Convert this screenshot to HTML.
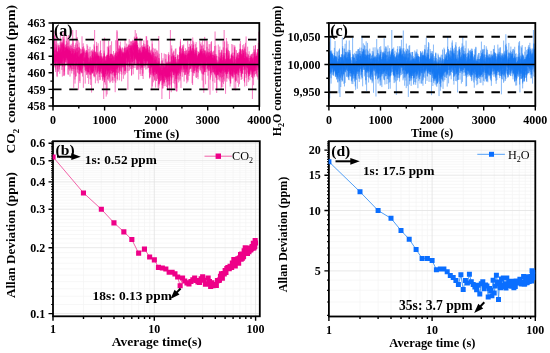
<!DOCTYPE html>
<html><head><meta charset="utf-8"><style>
html,body{margin:0;padding:0;background:#fff;}
svg{display:block;will-change:transform;font-family:"Liberation Serif", serif;}
</style></head><body>
<svg width="550" height="353" viewBox="0 0 550 353">
<rect width="550" height="353" fill="#fff"/>
<path transform="translate(53 0) scale(0.034389 0.1)" d="M0 575l1 39 1-76 1 120 1-129 1 23 1 33 1 82 1 78 1-31 1-202 1 43 1-6 1 76 1-165 1 224 1-153 1-1 1-57 1 24 1 92 1-13 1-42 1 67 1-16 1-224 1 182 1-100 1-26 1 239 1-348 1 235 1 77 1-29 1-38 1 121 1-79 1-42 1 73 1-279 1 174 1 75 1-24 1-51 1-12 1 39 1-45 1 127 1-19 1 10 1-59 1 66 1-87 1 81 1-81 1 12 1-78 1 124 1-45 1 50 1-57 1 95 1-17 1-76 1 63 1 39 1-288 1 148 1 4 1-3 1 89 1 22 1 16 1-142 1 108 1 115 1-67 1-30 1-48 1 121 1-96 1 73 1-83 1-148 1 81 1 72 1-87 1-9 1-85 1 162 1-36 1 95 1-74 1 12 1-73 1 24 1-41 1 66 1 68 1-146 1 123 1 51 1 10 1-103 1-6 1 85 1-304 1 254 1-14 1-113 1 138 1-6 1-63 1 41 1 33 1-10 1 30 1-98 1 240 1-245 1 257 1-191 1-24 1 53 1-20 1-50 1 69 1-84 1 107 1-112 1 69 1-39 1 65 1-51 1 64 1 12 1-105 1-23 1 32 1 57 1 86 1-117 1 9 1-21 1-124 1 173 1-62 1 156 1 19 1-181 1 92 1-28 1-34 1 146 1-257 1 168 1-177 1 54 1 0 1-8 1-16 1 173 1-5 1-149 1 134 1-60 1-47 1 40 1 73 1-10 1-49 1 15 1-89 1 137 1-83 1-71 1 142 1-55 1 98 1-116 1-88 1 101 1-34 1 47 1 25 1 7 1-65 1-32 1 52 1 125 1-47 1-57 1 74 1-158 1 51 1-106 1 227 1 60 1-126 1-13 1 51 1-8 1-22 1-33 1-23 1-85 1-4 1 179 1-231 1 163 1-7 1-39 1 58 1 22 1-223 1-46 1 306 1-102 1-64 1 146 1-116 1 109 1-146 1 80 1-26 1 54 1-149 1 67 1 118 1-46 1-23 1-35 1 40 1 10 1 53 1-31 1 31 1-161 1-64 1 70 1 67 1 21 1 51 1-6 1-173 1 140 1 66 1-47 1-74 1 117 1-82 1 24 1-157 1 56 1 153 1-178 1 204 1-97 1 142 1-22 1-24 1-10 1-204 1 165 1 6 1 50 1-196 1 97 1-37 1 82 1-96 1-4 1 260 1-339 1 74 1 84 1 30 1-118 1 36 1-25 1 29 1-6 1 78 1 60 1-53 1-190 1 97 1 9 1-79 1 100 1-183 1 161 1-6 1 20 1 110 1-188 1-51 1 160 1-260 1 147 1-76 1 142 1 22 1 43 1-157 1 161 1 159 1-285 1 133 1-19 1-111 1 89 1-28 1-33 1-36 1-11 1 68 1-46 1 27 1-66 1 139 1-106 1 157 1-237 1 73 1 162 1-117 1 206 1-200 1 245 1-184 1 71 1-112 1 22 1 4 1-11 1 90 1 83 1 24 1-215 1-220 1 215 1-70 1 21 1 106 1-31 1 77 1-96 1-32 1 79 1 82 1-188 1 50 1 89 1-55 1-50 1 12 1 52 1 27 1-82 1 5 1 36 1-7 1-105 1 151 1-76 1-41 1 95 1 47 1-85 1-5 1 23 1-33 1 94 1-144 1 82 1-40 1-43 1 21 1 13 1 44 1 15 1 12 1-70 1 32 1-101 1 89 1-59 1 128 1-17 1-172 1 104 1-10 1 78 1-15 1-30 1 26 1-99 1 130 1 36 1-271 1 228 1 61 1-98 1-39 1 64 1 6 1 69 1-160 1 30 1 67 1-97 1 17 1 66 1-51 1 42 1-70 1 58 1-20 1-32 1 62 1 40 1-26 1-98 1 106 1-21 1-2 1-181 1 228 1-176 1-5 1 319 1-282 1 74 1-49 1 156 1-143 1 69 1-5 1-55 1 149 1-145 1 63 1 89 1-83 1 53 1-115 1 228 1-283 1 55 1 66 1-133 1-102 1 72 1 67 1 151 1-110 1 0 1-40 1-5 1 205 1-128 1 32 1-27 1-64 1 50 1 84 1-129 1 5 1 104 1-102 1 101 1-81 1-39 1 155 1-195 1-54 1 173 1 130 1-202 1 21 1-43 1 27 1 43 1 105 1-107 1 79 1-123 1-38 1 183 1-129 1 152 1-146 1 23 1-97 1 312 1-123 1-40 1-44 1-7 1 16 1 5 1 33 1-36 1-84 1 72 1 9 1-57 1 166 1-166 1 89 1 73 1-17 1-99 1 106 1-123 1 13 1-99 1 92 1-12 1 42 1-35 1 151 1-92 1 0 1-106 1 153 1-114 1 128 1 50 1-272 1 258 1-237 1 139 1 23 1-25 1 6 1-54 1 17 1 16 1 41 1-2 1-9 1-22 1 79 1 67 1-154 1 31 1 22 1-156 1 122 1 49 1-107 1 32 1-14 1 80 1-10 1-20 1 25 1-76 1 10 1-85 1 153 1-143 1 97 1 68 1-153 1 59 1 22 1-58 1 17 1 74 1-15 1-305 1 301 1 44 1 66 1-73 1-39 1-63 1 61 1 95 1-266 1 265 1-139 1 104 1-28 1 37 1-267 1 145 1 32 1-17 1 61 1-74 1 100 1-134 1-20 1 90 1 48 1-15 1-31 1-72 1 368 1-286 1-5 1-27 1 99 1-158 1-13 1 102 1 10 1 111 1 33 1-54 1-27 1 4 1-76 1 1 1 46 1-124 1-20 1-3 1 103 1 23 1-60 1 62 1-43 1 7 1-51 1 45 1-107 1 127 1-23 1 33 1-23 1 105 1-160 1 96 1-13 1 182 1-257 1 298 1-387 1 158 1-54 1-4 1 88 1-68 1-67 1 52 1-64 1 171 1-115 1-34 1 81 1-18 1-24 1 25 1 192 1-204 1 27 1-1 1-157 1 167 1-67 1 67 1-26 1 123 1-66 1-53 1-51 1 29 1 0 1-35 1 111 1-122 1-210 1 462 1-218 1-66 1 172 1-38 1 12 1 29 1-73 1 74 1 5 1-72 1 49 1-21 1 38 1-13 1-38 1-1 1-114 1 168 1 17 1-58 1-68 1 71 1-42 1-205 1 233 1-45 1 13 1-68 1-25 1 86 1-42 1 93 1-91 1 58 1 143 1-142 1-140 1 248 1-78 1 3 1-46 1 7 1 36 1 21 1-64 1 8 1 27 1-21 1-184 1 124 1 209 1-111 1-48 1 124 1-58 1-17 1 34 1-151 1 72 1 36 1 40 1 247 1-336 1 104 1-32 1-47 1-118 1 158 1-28 1 28 1 28 1-85 1-67 1 170 1-32 1-11 1-70 1 54 1-41 1 30 1 3 1 26 1-210 1 315 1-273 1 177 1-166 1 146 1 10 1 65 1-42 1-10 1 65 1-121 1-14 1 7 1 90 1 12 1-106 1-28 1 259 1-149 1 81 1-73 1-190 1 45 1 306 1-201 1-52 1 83 1-79 1 110 1-201 1 163 1 1 1-108 1 72 1 20 1-70 1 43 1 32 1 9 1-112 1 161 1-131 1-10 1 90 1 59 1-105 1-45 1-29 1 32 1-24 1 95 1-142 1 74 1 157 1-178 1 178 1-129 1 12 1 95 1-33 1-73 1-55 1 3 1 18 1 103 1-66 1 86 1 43 1-112 1-15 1 21 1 3 1 0 1-91 1 75 1-58 1 53 1 131 1-239 1 90 1-51 1 52 1 17 1-240 1 170 1 149 1-81 1-12 1-57 1 88 1 26 1-87 1 169 1-143 1-61 1 99 1 27 1-62 1 177 1-131 1 54 1-53 1 27 1-160 1-32 1 126 1-16 1-94 1 148 1 8 1-24 1-23 1 16 1 25 1-78 1-62 1 54 1 59 1-176 1 123 1-31 1 156 1 197 1-94 1-31 1-241 1 79 1-5 1 12 1 3 1 9 1-147 1 35 1 107 1-5 1 33 1-21 1-21 1 17 1 22 1 30 1-15 1-18 1 48 1-126 1-26 1 67 1 13 1 62 1-162 1 140 1-31 1 4 1-5 1-38 1 38 1-106 1-20 1 147 1-4 1-12 1-10 1 1 1-18 1 72 1-85 1 52 1 71 1-38 1-57 1 63 1 57 1-76 1-68 1-53 1 204 1 105 1-145 1-36 1 14 1-9 1-107 1 37 1 57 1 57 1-198 1 25 1 89 1 64 1-30 1-52 1 17 1-45 1 136 1-60 1-120 1 130 1-19 1-16 1-97 1 86 1-35 1 49 1-62 1-9 1-34 1 52 1 133 1-119 1 26 1 35 1 16 1-148 1 62 1 167 1-244 1 102 1 91 1-15 1-19 1 29 1-191 1 47 1 67 1-48 1 62 1-67 1-120 1 310 1-118 1 46 1 45 1-102 1-5 1-33 1 43 1 1 1-63 1-36 1 183 1-99 1-99 1 152 1-23 1-74 1 122 1-60 1-174 1 166 1 157 1-69 1-47 1 7 1 70 1-196 1 123 1 49 1-135 1 100 1-3 1-24 1-28 1 97 1-131 1-69 1 200 1-88 1 83 1-79 1 13 1-1 1-30 1 36 1-22 1-59 1 96 1 167 1-211 1 94 1-58 1 9 1-87 1-98 1 125 1 51 1-54 1-27 1 44 1-2 1 46 1 11 1-109 1 64 1 73 1 11 1 0 1-13 1 32 1-103 1-43 1 110 1-59 1-7 1 28 1 6 1-57 1 12 1-1 1 125 1-80 1 5 1-65 1-81 1-14 1 150 1-199 1 177 1-8 1-16 1 166 1 5 1-167 1 61 1 3 1-74 1-18 1-36 1 73 1-48 1 121 1-138 1 175 1-55 1-88 1 171 1 78 1-250 1-19 1 30 1 48 1-20 1 18 1-48 1 1 1 141 1-8 1-86 1-34 1-116 1 170 1-31 1 58 1-8 1-93 1 17 1-40 1 88 1-49 1-8 1 115 1-95 1 294 1-287 1 17 1 6 1 20 1 41 1-217 1 141 1 89 1-83 1 24 1-102 1 16 1 93 1 16 1-149 1 161 1-60 1 70 1-99 1-84 1 200 1-166 1-79 1 140 1-75 1 95 1 75 1-72 1 75 1-122 1-89 1 94 1-99 1 168 1-115 1 15 1 95 1 26 1-108 1-22 1 153 1 5 1-61 1-158 1 198 1-179 1 105 1-46 1-26 1 157 1-134 1 90 1 0 1-30 1 62 1-130 1 178 1-168 1 47 1 25 1-69 1 12 1 48 1-153 1 33 1 146 1-11 1-14 1-210 1 175 1 83 1 72 1-3 1-220 1-23 1-13 1 97 1-6 1-49 1 66 1 14 1-172 1 195 1-23 1-67 1 15 1-60 1-225 1 259 1 202 1-139 1 14 1 14 1 119 1-172 1-62 1 43 1 60 1-76 1-49 1 166 1 17 1-148 1 70 1 26 1 31 1-38 1-112 1 15 1 98 1 195 1-258 1 40 1-96 1 20 1 72 1 42 1 65 1-30 1-71 1-43 1 128 1-142 1 76 1 9 1-20 1-47 1 43 1-9 1-73 1 144 1-138 1-19 1 118 1 20 1-4 1-85 1-2 1 33 1-11 1-136 1 134 1-49 1 47 1-172 1 254 1 74 1-17 1-93 1 100 1-171 1 39 1 48 1 2 1-61 1 50 1-88 1 79 1-48 1 13 1-77 1 105 1 11 1 168 1-162 1-187 1 260 1-45 1 28 1 4 1-113 1-39 1-14 1 191 1-174 1 32 1-31 1 58 1 18 1-9 1-97 1 26 1 131 1-22 1 58 1-88 1-70 1 74 1-21 1 52 1-234 1 237 1 163 1-268 1 23 1-24 1 85 1 1 1 12 1 12 1-113 1 45 1 5 1 67 1-46 1 25 1-101 1 19 1 134 1-164 1 143 1-55 1 104 1-179 1 149 1-93 1 48 1-64 1 23 1 14 1-112 1 170 1-39 1 30 1 87 1-81 1-127 1 92 1 51 1-18 1-46 1 35 1 63 1-20 1-31 1-53 1 37 1-83 1 129 1-144 1 76 1 151 1-227 1 20 1 92 1 31 1-208 1 14 1 273 1-177 1 36 1-45 1 80 1-12 1 44 1-118 1-98 1-100 1 198 1-46 1 27 1 121 1-34 1-131 1-42 1 140 1-61 1 84 1 23 1-44 1 68 1-43 1-24 1 8 1-37 1-3 1 21 1 26 1 77 1-132 1 128 1-34 1 1 1-134 1 58 1 50 1-140 1 141 1-101 1 55 1 17 1 37 1-8 1-83 1-34 1 133 1-42 1 14 1 110 1-87 1-14 1-82 1 65 1-25 1 64 1-86 1 132 1-8 1-138 1 42 1 22 1-15 1-65 1 35 1 115 1 82 1-69 1-7 1-38 1-23 1 61 1-92 1-6 1 53 1 34 1-156 1 222 1-199 1 132 1-137 1 54 1 69 1 91 1-152 1 117 1-116 1-253 1 356 1-53 1 21 1 50 1-134 1-13 1 146 1-27 1-100 1 87 1-76 1-84 1 153 1-45 1 316 1-276 1-85 1 53 1-121 1 123 1-136 1-13 1 106 1 16 1-51 1 45 1 119 1-264 1 228 1-26 1-61 1-50 1-69 1 174 1 78 1-25 1-27 1 95 1-175 1-102 1 276 1-445 1 222 1-39 1 52 1 72 1 115 1-22 1-82 1-76 1 3 1-12 1 10 1-21 1 74 1-32 1 54 1-56 1 28 1 180 1-183 1-1 1 78 1-145 1 119 1-150 1 77 1-21 1 119 1-133 1 32 1-10 1 145 1-163 1 58 1 49 1-149 1 34 1 94 1-65 1 16 1 108 1-55 1-71 1 16 1-36 1 82 1 274 1-295 1-113 1 134 1-51 1-1 1 14 1-42 1 52 1-39 1-73 1 101 1-20 1-59 1-9 1 194 1-12 1-92 1 51 1-106 1-3 1 62 1-90 1 61 1 79 1-82 1 317 1-399 1 132 1 7 1 13 1 47 1-22 1-235 1-21 1 223 1-93 1 147 1-6 1-28 1-39 1 34 1-154 1 54 1 81 1-133 1 241 1-178 1 181 1-74 1-103 1 75 1-168 1 114 1 9 1 37 1 21 1-154 1 103 1 73 1-172 1 45 1 89 1-7 1-58 1-154 1 72 1 77 1-137 1 235 1-104 1-205 1 201 1-112 1 123 1 186 1-132 1 90 1-187 1 33 1 31 1 64 1-249 1 137 1-30 1 200 1-61 1-2 1-49 1 129 1 2 1-169 1 43 1-53 1 78 1 20 1-59 1-85 1 121 1-77 1 59 1-44 1 20 1-57 1 164 1-99 1-66 1 98 1-44 1 198 1-161 1 66 1-175 1-18 1 276 1-46 1-89 1-69 1-68 1 69 1-29 1 38 1-174 1 246 1-161 1 54 1 36 1-39 1 143 1-117 1 73 1-93 1 72 1-40 1 77 1-102 1 20 1-80 1-1 1 185 1 11 1-109 1-4 1 49 1-22 1-112 1 105 1-62 1 66 1-13 1 21 1 52 1-71 1 40 1-9 1-56 1-198 1 326 1 5 1-51 1-107 1-5 1 232 1-133 1-143 1 170 1-64 1-103 1 136 1-29 1 61 1-92 1 30 1-26 1 67 1-50 1 47 1-132 1 175 1-183 1 44 1 67 1 18 1 46 1 14 1-119 1-61 1 7 1 50 1 191 1-34 1 63 1-153 1-67 1 118 1-126 1 36 1-78 1 192 1-7 1-80 1-14 1-57 1-28 1 121 1-25 1-85 1 67 1 9 1-45 1 52 1 60 1-162 1-48 1 116 1 18 1 27 1 46 1-146 1 86 1 27 1 40 1-45 1 5 1-48 1 5 1-85 1 119 1 4 1-77 1 211 1-187 1 134 1-162 1 114 1-56 1 0 1-8 1 78 1-78 1 60 1-35 1-100 1 77 1-1 1 104 1-204 1 137 1 90 1-112 1-131 1 80 1 55 1-52 1 21 1-9 1 148 1-115 1-104 1 75 1 17 1 273 1-320 1 13 1 79 1-65 1 64 1-41 1-75 1 76 1-117 1 70 1 149 1-142 1 79 1-26 1-264 1 425 1-204 1-7 1 30 1 70 1-179 1 68 1-83 1 172 1-104 1 136 1-195 1 26 1 118 1 51 1-134 1-7 1 28 1-101 1 52 1 111 1-114 1 82 1-78 1 106 1-43 1 36 1-18 1-41 1 8 1 75 1-127 1 188 1-64 1-13 1-372 1 311 1 74 1-89 1 8 1 34 1-121 1-203 1 313 1 164 1-169 1 183 1-137 1-264 1 190 1 103 1-136 1-37 1 75 1 12 1-6 1 76 1-74 1-34 1 38 1-91 1 72 1-21 1 11 1 92 1-125 1 22 1 162 1-166 1-11 1 64 1-220 1 271 1-39 1-96 1 60 1-8 1 12 1 74 1-69 1 8 1 53 1 61 1-136 1-100 1 93 1 52 1-121 1-2 1 54 1-89 1 106 1 29 1 44 1-54 1-44 1 46 1-68 1 55 1 20 1 47 1-43 1-96 1 76 1-144 1 351 1-165 1-149 1 59 1 157 1 10 1-149 1 52 1-107 1 71 1 103 1-103 1 62 1-184 1 47 1 195 1-186 1 225 1-182 1 83 1-135 1 77 1-26 1 66 1 25 1-165 1 27 1 26 1 65 1 30 1-216 1 182 1-4 1-27 1-76 1 222 1-78 1-163 1 179 1-99 1-68 1 181 1-81 1-43 1 56 1 6 1-26 1-3 1 27 1 6 1 75 1-109 1 16 1 76 1-128 1-50 1 124 1-31 1-11 1 151 1-36 1-119 1 31 1 11 1-24 1-85 1 315 1-150 1-154 1 76 1 58 1-67 1 48 1-100 1 8 1 78 1-9 1 145 1-84 1-61 1-84 1 89 1-105 1-10 1-17 1 28 1 135 1-108 1 124 1-110 1 110 1 19 1-81 1 48 1-111 1 41 1 25 1-18 1-38 1-59 1 134 1-86 1 130 1-104 1 118 1-60 1-5 1-43 1 122 1-88 1-2 1 40 1-92 1 18 1 46 1-26 1-57 1 32 1 232 1-153 1 1 1-3 1-26 1-76 1 101 1-115 1 9 1 146 1-74 1 40 1-48 1-51 1 36 1 160 1-178 1-68 1 9 1 61 1 45 1-71 1 86 1 1 1-37 1 80 1-136 1 144 1-190 1 134 1-13 1 8 1-37 1-25 1 25 1 138 1-137 1 179 1-180 1 37 1-147 1 161 1-149 1 137 1-87 1 53 1-39 1 133 1-164 1-116 1 317 1-158 1 87 1-69 1-86 1 159 1 15 1 44 1-172 1 18 1 195 1-190 1 28 1-66 1 0 1 74 1 105 1-163 1 184 1-105 1 40 1-173 1 117 1-19 1 17 1-53 1 23 1-59 1-1 1 56 1 3 1 5 1 11 1-18 1 17 1-14 1-20 1 101 1-98 1-17 1-52 1 98 1-14 1 16 1-38 1-101 1 101 1 14 1-24 1 6 1 99 1-95 1-15 1 48 1-66 1 225 1-221 1 113 1-130 1 150 1-98 1-73 1 33 1 86 1 54 1-40 1-108 1 65 1-57 1 39 1-6 1 21 1-57 1 77 1-111 1 150 1 51 1-158 1 78 1-113 1 122 1 302 1-303 1-73 1 92 1-110 1 110 1 96 1-190 1 95 1-169 1 162 1 18 1-125 1-41 1 35 1 21 1 49 1 3 1 9 1-42 1 63 1 0 1-145 1 90 1 31 1-30 1 78 1-82 1 20 1 23 1-1 1-25 1-73 1 154 1-80 1-114 1 26 1-5 1-74 1 183 1 88 1-28 1 21 1-94 1-3 1 7 1-56 1 56 1 141 1-98 1 64 1-228 1 61 1-27 1 157 1-39 1-52 1 43 1 58 1-185 1 63 1-25 1-36 1 26 1 125 1-127 1 29 1-19 1-10 1 57 1-27 1 74 1 58 1-70 1 111 1-63 1-43 1-9 1-87 1-38 1 58 1 112 1-42 1-62 1-40 1-58 1 132 1 13 1-151 1 160 1-24 1 113 1-104 1-97 1 115 1-107 1 2 1 10 1 8 1 13 1-37 1 47 1 82 1-113 1 93 1-97 1 282 1-342 1 76 1 261 1-239 1 37 1 11 1-102 1-7 1 163 1-56 1-7 1-14 1-36 1 85 1-140 1 169 1-14 1-84 1 51 1 121 1-175 1 21 1-3 1 91 1-87 1 81 1-49 1-4 1-156 1 104 1-51 1 67 1-14 1 158 1-242 1 144 1 4 1-79 1-64 1-39 1 167 1-27 1-64 1-18 1 47 1 30 1 60 1-4 1 155 1-220 1-1 1 20 1 47 1-19 1-136 1 120 1-10 1-16 1-122 1 170 1 32 1-11 1-1 1 21 1 63 1-154 1 112 1-162 1 69 1-81 1 31 1-3 1-55 1 52 1-72 1 187 1-88 1-88 1 65 1-31 1 49 1-144 1 235 1-67 1-83 1 30 1 95 1-15 1-48 1-5 1 130 1-153 1-38 1 197 1-259 1 88 1 159 1-126 1-50 1 136 1-75 1 162 1-73 1-63 1-91 1 119 1-272 1 230 1-58 1-54 1 109 1-15 1 44 1-96 1-77 1 115 1 79 1-86 1-52 1 50 1 102 1-175 1 114 1-31 1 46 1-4 1 32 1-128 1 144 1-69 1 19 1-29 1 25 1 61 1-114 1-44 1-34 1 196 1-44 1-5 1 85 1-105 1 37 1-234 1 180 1 26 1-170 1 126 1-121 1 319 1-206 1 119 1-58 1-82 1 117 1-28 1-139 1 175 1 109 1-132 1-203 1 205 1 127 1-168 1 82 1-88 1 55 1-122 1 76 1-81 1 46 1 69 1-117 1 156 1-41 1 87 1-98 1 3 1 56 1-28 1 100 1-188 1-64 1 68 1 144 1-115 1 116 1-44 1-72 1 117 1-178 1 105 1 3 1 38 1-31 1 64 1-22 1 34 1-160 1 83 1-29 1-21 1 45 1 16 1-38 1-41 1 47 1 22 1 212 1-293 1-29 1 212 1 9 1-99 1 16 1-67 1 1 1 7 1-65 1 109 1-43 1 54 1 64 1-174 1 108 1-33 1 30 1-60 1-40 1 111 1 6 1-56 1-36 1 5 1 66 1 0 1-45 1 1 1-72 1 167 1-165 1 35 1 36 1-23 1 33 1-188 1 184 1 177 1-150 1-78 1 90 1 17 1 37 1-82 1 26 1-127 1 215 1-149 1 89 1-60 1 63 1-82 1 106 1-85 1-65 1 87 1-55 1 78 1-87 1-1 1 40 1 78 1-137 1 72 1 181 1-162 1-41 1 61 1-1 1 82 1-106 1 5 1-209 1 289 1-129 1 108 1-76 1-47 1 109 1-7 1-111 1-6 1 111 1-69 1-30 1-74 1 79 1 23 1 74 1-104 1 146 1-48 1-51 1 74 1-126 1 80 1 60 1-108 1 120 1-110 1 8 1 42 1-28 1 79 1-193 1 73 1-76 1 49 1 240 1-246 1-41 1-19 1 49 1 174 1-85 1-66 1 65 1 54 1-98 1 189 1-237 1 84 1-6 1-78 1 85 1-55 1 261 1-239 1-42 1 69 1 28 1-107 1 42 1 52 1-122 1 8 1 175 1-131 1 29 1 21 1-44 1-96 1 28 1 36 1 93 1-76 1-23 1-88 1 159 1-94 1 58 1-60 1 21 1 134 1 39 1-73 1-52 1 144 1-211 1 103 1-93 1 157 1-82 1-34 1 14 1 9 1 13 1-35 1 56 1-33 1 68 1-81 1 76 1-16 1-123 1 27 1 55 1-108 1 177 1 16 1-159 1 76 1-29 1 89 1-36 1 46 1 6 1-123 1 163 1-28 1-22 1-60 1 0 1 25 1-97 1 166 1-63 1 44 1 12 1-130 1 22 1 159 1-57 1-145 1 3 1 93 1-132 1 60 1 1 1 44 1-16 1 2 1 60 1-216 1-30 1 77 1 54 1 42 1 101 1-24 1-39 1-82 1 155 1-15 1-120 1 118 1-69 1-78 1-118 1 183 1 41 1-11 1-74 1 68 1 33 1-76 1 76 1-92 1-30 1 211 1-87 1 3 1-18 1-184 1 210 1-62 1 11 1 11 1 24 1-45 1 56 1-160 1 99 1-74 1 1 1 38 1 88 1-20 1-183 1 197 1-117 1 31 1-6 1 147 1-85 1 22 1-25 1-52 1-27 1 115 1 80 1-233 1 161 1 71 1-133 1 45 1 13 1 49 1-40 1 3 1-54 1 113 1-158 1 8 1 72 1 40 1-13 1-126 1 88 1-47 1 79 1-82 1-16 1 15 1 48 1 61 1-29 1-77 1-7 1 39 1-40 1 93 1-94 1 128 1 68 1-188 1 108 1-19 1-164 1 118 1 42 1 3 1-91 1-67 1 318 1-120 1 11 1-118 1 59 1 158 1-189 1 2 1 34 1-126 1 174 1 101 1-236 1 70 1-22 1 5 1-13 1 134 1-84 1 25 1-8 1-120 1 67 1-82 1 133 1 19 1 26 1-110 1-46 1 216 1-121 1-2 1-62 1 111 1 62 1-185 1 197 1-3 1-202 1 84 1 0 1-14 1 60 1-119 1 26 1 61 1-53 1-7 1 50 1 13 1-33 1 74 1-187 1 175 1-22 1 12 1-44 1-9 1-50 1 75 1 37 1-8 1-92 1 39 1-69 1 363 1-221 1-62 1-46 1 179 1-203 1 2 1 75 1-219 1 132 1-27 1 214 1-291 1 287 1-2 1 143 1-18 1-271 1 99 1 24 1-9 1-94 1 61 1-55 1-13 1 71 1-31 1 107 1-116 1-92 1 91 1-11 1-28 1-39 1 85 1 37 1-135 1 83 1 108 1-240 1 278 1-158 1-40 1 9 1 256 1-170 1 62 1-36 1 79 1-122 1 105 1-110 1 96 1-156 1-53 1 68 1 38 1 148 1-112 1-55 1 49 1-34 1 24 1 31 1 26 1-75 1 122 1-167 1 37 1 56 1 46 1-7 1-81 1 41 1-136 1 78 1 191 1-96 1-96 1-22 1-105 1 220 1 40 1 50 1-153 1-46 1 71 1 50 1-24 1-129 1 50 1 84 1-125 1-14 1 94 1-10 1 56 1-76 1-32 1 15 1 106 1-114 1 66 1 85 1-149 1 66 1-26 1 47 1-70 1 256 1-90 1-111 1-154 1 116 1 97 1-247 1 189 1-24 1-38 1-28 1-17 1 88 1 152 1-194 1-50 1 170 1-71 1-35 1 17 1 17 1 42 1-78 1 59 1 53 1-87 1-27 1 112 1-161 1 235 1-190 1 6 1 61 1 52 1-103 1 40 1-37 1 66 1-203 1 216 1-19 1-83 1-19 1 140 1-229 1 128 1 57 1-48 1 74 1-47 1-7 1 41 1-52 1-24 1 101 1 60 1-84 1-67 1 16 1 11 1 87 1-123 1 70 1-146 1 47 1 33 1 141 1-70 1-180 1 149 1 0 1 202 1-240 1 0 1 90 1-51 1 12 1-70 1 63 1-70 1 56 1-10 1-26 1 53 1 119 1-126 1-98 1 23 1 118 1-33 1 154 1-126 1 17 1-18 1-354 1 542 1-276 1 77 1-50 1 12 1 82 1 108 1-186 1 171 1-91 1-69 1 16 1-158 1 96 1 81 1 36 1-41 1 80 1-69 1-138 1 93 1-9 1 89 1-45 1 96 1 26 1-110 1-109 1 203 1-86 1-8 1-60 1 16 1 28 1-52 1 60 1-13 1-8 1 10 1 9 1 32 1-21 1 32 1 49 1-54 1-71 1 58 1-66 1 45 1-6 1-56 1 49 1 105 1-43 1-18 1-55 1 67 1 16 1-138 1 115 1 61 1-80 1 26 1-106 1 36 1-44 1 153 1-73 1-17 1-8 1-65 1 108 1 7 1-47 1 44 1 51 1-76 1 2 1 15 1-62 1-149 1 95 1 125 1-27 1-116 1 103 1 1 1 63 1 40 1 177 1-243 1-44 1 69 1-48 1 127 1-153 1 45 1-46 1 108 1-40 1-87 1 7 1 2 1-82 1 70 1 73 1-30 1-11 1 178 1-16 1-145 1-83 1 21 1 129 1-61 1 12 1 90 1-198 1 181 1-138 1-94 1 109 1 192 1-90 1-135 1 84 1-83 1 112 1 33 1-66 1-47 1-10 1 99 1-19 1-9 1-58 1 2 1-28 1 17 1 31 1 54 1 30 1-165 1 31 1-4 1 165 1 13 1-48 1 69 1-224 1 90 1 96 1-93 1-9 1-83 1 61 1 2 1-167 1 254 1 27 1-140 1 10 1 24 1-15 1 59 1 15 1 57 1-69 1-74 1 80 1-77 1 27 1 49 1-19 1-85 1 99 1-12 1-78 1 38 1 32 1-85 1 105 1 13 1 91 1-174 1-8 1 82 1-87 1 56 1-12 1-42 1-135 1 125 1 96 1-115 1 62 1-16 1 85 1-100 1 88 1-177 1 208 1-6 1 9 1-89 1-40 1 119 1-94 1 41 1-77 1 122 1-54 1-54 1 96 1-32 1-97 1 77 1-83 1 103 1 86 1-132 1 13 1-25 1 109 1-151 1 17 1-29 1 40 1 88 1 116 1-325 1 164 1-69 1 48 1 42 1-89 1 117 1-137 1 26 1-11 1 84 1-16 1-59 1 166 1-82 1 35 1-150 1 3 1 106 1 42 1-49 1 174 1-181 1-4 1-5 1-67 1 87 1 5 1-33 1 196 1-152 1 47 1-98 1 129 1-112 1 52 1 14 1-83 1 48 1-42 1 74 1-125 1 65 1-78 1 130 1-56 1 50 1-21 1-189 1 233 1-18 1-104 1-5 1-84 1 291 1-114 1-217 1 215 1-27 1 27 1-44 1-45 1 34 1 87 1 42 1-80 1-106 1 163 1-84 1 137 1-145 1-23 1-36 1 39 1 35 1-37 1 39 1 53 1 65 1 158 1-288 1-3 1-81 1 145 1-108 1 107 1-190 1-23 1 136 1 172 1-201 1 41 1 111 1-187 1 66 1 73 1-48 1-13 1 13 1-40 1 47 1 3 1-72 1 114 1-156 1-5 1-303 1 349 1 59 1 1 1-8 1-86 1 103 1-11 1-2 1-14 1 34 1 51 1-115 1-2 1 29 1-64 1 2 1 23 1 46 1-65 1 153 1 61 1-102 1-68 1 44 1 204 1-224 1 13 1-33 1 22 1-131 1 309 1-281 1-34 1 73 1 44 1-17 1-209 1 243 1 79 1-291 1 311 1-137 1 18 1 7 1 30 1-51 1 28 1-48 1-84 1 70 1 62 1-21 1-68 1 106 1-9 1-72 1 36 1-126 1 177 1-17 1-53 1 75 1-26 1-26 1-2 1-42 1 76 1 14 1-65 1 21 1 62 1-207 1 179 1-16 1-42 1 34 1 1 1 94 1-167 1 91 1 134 1-280 1 196 1-94 1 96 1-102 1-89 1 145 1-70 1 91 1-82 1-76 1 91 1-101 1 27 1 114 1-182 1 70 1-80 1 197 1 15 1-42 1-86 1 107 1 51 1-139 1 140 1-25 1-50 1-100 1 120 1 4 1 57 1-155 1-14 1 31 1 53 1-12 1-105 1 56 1 131 1-62 1-42 1 91 1-49 1 9 1 57 1 94 1-90 1 36 1 95 1-304 1-3 1 136 1 103 1-53 1-47 1-93 1 95 1-117 1 46 1 47 1-40 1-161 1 220 1-34 1 54 1-158 1 80 1 85 1-113 1 79 1-17 1-2 1-111 1 216 1-113 1-8 1 242 1-290 1-134 1 146 1 44 1 68 1 48 1-91 1 45 1 3 1-54 1-64 1 135 1-87 1 2 1-56 1 75 1-8 1 37 1-50 1-25 1-60 1 324 1-279 1 152 1 90 1-215 1 13 1 59 1-122 1 66 1 233 1-246 1 119 1-77 1-11 1 31 1-60 1 32 1 57 1-9 1-30 1-17 1-91 1-50 1 79 1 21 1-118 1 198 1-11 1-87 1-18 1 55 1-29 1 3 1 15 1-26 1-92 1 103 1 10 1 68 1-76 1 94 1-97 1 30 1 114 1-182 1 71 1-52 1 64 1-8 1-14 1-86 1 53 1 113 1-73 1-58 1-1 1-26 1 95 1-69 1 13 1 187 1-163 1 62 1-30 1-13 1 19 1-149 1 66 1-26 1 83 1 57 1-96 1 19 1-46 1 51 1-17 1 72 1-167 1 182 1-67 1 24 1-87 1-78 1 147 1-75 1 42 1 36 1-195 1 174 1 5 1 86 1-69 1-65 1-139 1 121 1 220 1-82 1 15 1 53 1-100 1-114 1 34 1 18 1-5 1 56 1-224 1 227 1 23 1-26 1-267 1 209 1 134 1-366 1 126 1 46 1 11 1-36 1 152 1-33 1-45 1-25 1-53 1 197 1-93 1-66 1 0 1 305 1-355 1 124 1-76 1 45 1 23 1 42 1-119 1 77 1-3 1-44 1 72 1 54 1-57 1-24 1 58 1-153 1 49 1-60 1-41 1 30 1 59 1 47 1-69 1 123 1-201 1 147 1-19 1-21 1-36 1 30 1 73 1-124 1 174 1-121 1-33 1-14 1 74 1-72 1-86 1 316 1-145 1 12 1 18 1-116 1 28 1 21 1-117 1 133 1-92 1 15 1 85 1 37 1-35 1 22 1-60 1 14 1 131 1-115 1-67 1 39 1-22 1 91 1-40 1 62 1-116 1-95 1 193 1 40 1-170 1 113 1 16 1 77 1-234 1 3 1 203 1-9 1-43 1-47 1-154 1 156 1 12 1 41 1-113 1 141 1-97 1 85 1-134 1 104 1-39 1 60 1-32 1 187 1-159 1-91 1 112 1-122 1 98 1 11 1-31 1-23 1-1 1-63 1 86 1-122 1 182 1-29 1-30 1 119 1-74 1-33 1 48 1-97 1 123 1-187 1 118 1 1 1-17 1 113 1-157 1-19 1 102 1-159 1 15 1 69 1-42 1 179 1-41 1-148 1 121 1-92 1 7 1 58 1-45 1-113 1 16 1 226 1 26 1-202 1 3 1 72 1 39 1-75 1 1 1-33 1 65 1-111 1 181 1-141 1 167 1-71 1-91 1 84 1-54 1 112 1-104 1 82 1 51 1-93 1-11 1 18 1-136 1 185 1-63 1 17 1-23 1 29 1 10 1 137 1-121 1 159 1-156 1-63 1 6 1-5 1 75 1-160 1 70 1-21 1 60 1 35 1-71 1-108 1 55 1 152 1-82 1 34 1-92 1-12 1 3 1 111 1 7 1-133 1 56 1 149 1-139 1-195 1 275 1-77 1 9 1-44 1 245 1-160 1-55 1 200 1-100 1-125 1-62 1 110 1-83 1 4 1 97 1 99 1-25 1-76 1-26 1-81 1 63 1 38 1-85 1-81 1 123 1 2 1-5 1 5 1-28 1 38 1-96 1 109 1 5 1-87 1 21 1-46 1 135 1 21 1 94 1-88 1-56 1-8 1-15 1-62 1 107 1-23 1 110 1-286 1 137 1-80 1 102 1-47 1 58 1 86 1-6 1-175 1 83 1-16 1 66 1-56 1 61 1 30 1 11 1-110 1-32 1 90 1-89 1 43 1-125 1 52 1 163 1-111 1-34 1 140 1-209 1 64 1 82 1-84 1 48 1-10 1-110 1 171 1-150 1-27 1 190 1-255 1 200 1 98 1-165 1 72 1 39 1 55 1-139 1 47 1 27 1 57 1-184 1 100 1 30 1-61 1 94 1-124 1 59 1 123 1-90 1 37 1-29 1-85 1-55 1 90 1-76 1 62 1-55 1 94 1-32 1-66 1 55 1-128 1 203 1-45 1 14 1 3 1-64 1 60 1-56 1 94 1-36 1 220 1-339 1-13 1 124 1-62 1 87 1-106 1-45 1 130 1-58 1 118 1-4 1-91 1 73 1-136 1 339 1-306 1-23 1-18 1-128 1 201 1-37 1 33 1 95 1 62 1-275 1 95 1-141 1 281 1-151 1 122 1-88 1-83 1 95 1 93 1-104 1 60 1-4 1 89 1-206 1 104 1-72 1-35 1 114 1-43 1-132 1 310 1-223 1-47 1-64 1 308 1-112 1-18 1 34 1-124 1-25 1 57 1 15 1 20 1 14 1 6 1-81 1 192 1-105 1-41 1 45 1 52 1-87 1 27 1-61 1 32 1 161 1-117 1 89 1-9 1-85 1-111 1 71 1 82 1 9 1-125 1 145 1-41 1-4 1-112 1 66 1-12 1 11 1 62 1 57 1-170 1-55 1 165 1-83 1-125 1 232 1-128 1 60 1-4 1 32 1-61 1 101 1 2 1-98 1-3 1 73 1-137 1 85 1-93 1 272 1-216 1-22 1 115 1 26 1 21 1-129 1-39 1-109 1 128 1 96 1-73 1-25 1 178 1-140 1-104 1 160 1-7 1-54 1 60 1 140 1-169 1-37 1-43 1 95 1 23 1-58 1-119 1 246 1-1 1-28 1-46 1 22 1 11 1-15 1 56 1-83 1-126 1 126 1-30 1-15 1 96 1-87 1-39 1 35 1 91 1-52 1 9 1-72 1 49 1-4 1-33 1 29 1-63 1 67 1 154 1-176 1-6 1 90 1-73 1-14 1 38 1-15 1-52 1 231 1-167 1-67 1 64 1 68 1-42 1 11 1-143 1 30 1 181 1-183 1 111 1 13 1-150 1 12 1 116 1-106 1 24 1 98 1-113 1 106 1-65 1 26 1-8 1-67 1 25 1 39 1-33 1 93 1-3 1-85 1-35 1 18 1 40 1 17 1-88 1 75 1-22 1-54 1 96 1-92 1 32 1 92 1-52 1 63 1-68 1-113 1-76 1 216 1 20 1-27 1-37 1 111 1-23 1 37 1-140 1-50 1 21 1 86 1-81 1 102 1-69 1 41 1-46 1 103 1-175 1 145 1-128 1-2 1 52 1-26 1 22 1 97 1-27 1 70 1-260 1 122 1-57 1 79 1 52 1 3 1-66 1-83 1 66 1-27 1 64 1-171 1 176 1-57 1 173 1-211 1 48 1-65 1 64 1 61 1-10 1-85 1 79 1 138 1-118 1-82 1 115 1-57 1-136 1 221 1-62 1-88 1 92 1-23 1-27 1-56 1 15 1 47 1 49 1-69 1 26 1-126 1 9 1 64 1 276 1-209 1-24 1 52 1-38 1 57 1-80 1 36 1-59 1 52 1 151 1-232 1 96 1-192 1-11 1 260 1 4 1-135 1 27 1-8 1 32 1 18 1 76 1-76 1 89 1-48 1-151 1 384 1-220 1-37 1-57 1 23 1 14 1-20 1 44 1-48 1 14 1 25 1-131 1 196 1-77 1 134 1-17 1 18 1-144 1-146 1 151 1-66 1 396 1-360 1 183 1-204 1 0 1 57 1-71 1 126 1-89 1 45 1-13 1-100 1 111 1-84 1 156 1-107 1 137 1-162 1 127 1-170 1 59 1 152 1-86 1 12 1 58 1-40 1-296 1 133 1 172 1 47 1-36 1-139 1-43 1 88 1-8 1 61 1 25 1-85 1 118 1-168 1 113 1-69 1 142 1-57 1-65 1 65 1-158 1 126 1-38 1-47 1 90 1-17 1 224 1-192 1-9 1-73 1 54 1-108 1 116 1-17 1-48 1 93 1-95 1 44 1-55 1 34 1 37 1 69 1-70 1-55 1 23 1 50 1-35 1 30 1-41 1 2 1-193 1 158 1-27 1 82 1-34 1 34 1-39 1 41 1 22 1 81 1-33 1-163 1 83 1-8 1-8 1-2 1 56 1-68 1-111 1 121 1 14 1-86 1 50 1 25 1 4 1 61 1 26 1-56 1-17 1 71 1-270 1 157 1 55 1-6 1 19 1 56 1-125 1 41 1 44 1-51 1-89 1 97 1 7 1 141 1-232 1 116 1-67 1-13 1-3 1 138 1-105 1-24 1 106 1-1 1-125 1 47 1 115 1-135 1 328 1-319 1-53 1-8 1 60 1 61 1-61 1-14 1-36 1 70 1 56 1 12 1-139 1-44 1 114 1-11 1 12 1 46 1 56 1-262 1 5 1 203 1-91 1 92 1-33 1 22 1 31 1-51 1 34 1-86 1 141 1-125 1-19 1 35 1 5 1 29 1-115 1 90 1-87 1 58 1-24 1 137 1-63 1-73 1 102 1 7 1-224 1 505 1-413 1 63 1 80 1-100 1 47 1-20 1 193 1-141 1 6 1-60 1-10 1-1 1 144 1-197 1 102 1-129 1 179 1-73 1 57 1 100 1-224 1 175 1-194 1 39 1 7 1-33 1 125 1-71 1 60 1-236 1 230 1-84 1 86 1-79 1 31 1-45 1 60 1 113 1 18 1-75 1-173 1 78 1-170 1 144 1 93 1 85 1-78 1-17 1-34 1 27 1-59 1 81 1-102 1 98 1-12 1-58 1 73 1-19 1-107 1 145 1 50 1-105 1 84 1-154 1 93 1 79 1-202 1 34 1 11 1-7 1 127 1-50 1-11 1 58 1-96 1 69 1-6 1-68 1 27 1 208 1-177 1-51 1 117 1-103 1-26 1 332 1-257 1 42 1-105 1 6 1 50 1-93 1 113 1-83 1-29 1 114 1-130 1-21 1 49 1 62 1 3 1 94 1-67 1-60 1 83 1 12 1-94 1 134 1-47 1-41 1-87 1 104 1-56 1 120 1-105 1 27 1-138 1 40 1 76 1-37 1 48 1-73 1 176 1-90 1-41 1 106 1-11 1 20 1-161 1 135 1-44 1-189 1 214 1-76 1 13 1 60 1 70 1-47 1 58 1-211 1 287 1-268 1 118 1-32 1 38 1-95 1-274 1 300 1-49 1 92 1 36 1 2 1 45 1-162 1 100 1-58 1 20 1 50 1-19 1-59 1-70 1 147 1 16 1 17 1-59 1 105 1 6 1-319 1 201 1-62 1 49 1-5 1 114 1-34 1-79 1-17 1 140 1-113 1-56 1 79 1-12 1 120 1-182 1-37 1 114 1-6 1-45 1 28 1-37 1 106 1-161 1-17 1 351 1 35 1-287 1 35 1 31 1 15 1 162 1-252 1 88 1-162 1 152 1 37 1-11 1 61 1-167 1 35 1 58 1-58 1-69 1 42 1 42 1-15 1 80 1-89 1 38 1 49 1-39 1-20 1-12 1 65 1-112 1 47 1 78 1-13 1-35 1-84 1 81 1-34 1 51 1-37 1-72 1 18 1 47 1-38 1 14 1-34 1 52 1-20 1-202 1 144 1 152 1-59 1 79 1-110 1-5 1 62 1-6 1-12 1-125 1 180 1-92 1 140 1-71 1-13 1-15 1-40 1-5 1 0 1 47 1 11 1 13 1-221 1 161 1 5 1 8 1-35 1 165 1-176 1 61 1-61 1-54 1 53 1 5 1-19 1-11 1 115 1-97 1 82 1-11 1-67 1 38 1 111 1-308 1 250 1-22 1 5 1 48 1-215 1 188 1-63 1 159 1-176 1 59 1-108 1 115 1-120 1 56 1 60 1-178 1 205 1-28 1 4 1 64 1-172 1 129 1-63 1-31 1 90 1-163 1 154 1-123 1 9 1 125 1-146 1 71 1 15 1-40 1-37 1 69 1-41 1 285 1-158 1-91 1 1 1 132 1-110 1 38 1 14 1-177 1 158 1-208 1 374 1-125 1-40 1-175 1 97 1-114 1 115 1 9 1 71 1 27 1-25 1-117 1 63 1 37 1-196 1 204 1-89 1 4 1 92 1-3 1-79 1-18 1 63 1-29 1-26 1 45 1 4 1-9 1 32 1-37 1 118 1-170 1 223 1-116 1-105 1 21 1 12 1 21 1 215 1-302 1 39 1 82 1-61 1 71 1-151 1 121 1-78 1-185 1 272 1-55 1-49 1 161 1-263 1 136 1 24 1-103 1 154 1 27 1-85 1 68 1 145 1-265 1 83 1-68 1 12 1 15 1 177 1-154 1-31 1 57 1-34 1 130 1-175 1 90 1-74 1-43 1 54 1-314 1 317 1 39 1 47 1-97 1-76 1 111 1-87 1 77 1 25 1 70 1-49 1 137 1-154 1-54 1-191 1 182 1 79 1-14 1-36 1 40 1 17 1 8 1 11 1-104 1-2 1 127 1-99 1 55 1-3 1-20 1-51 1 80 1-94 1 45 1 77 1-25 1-6 1 41 1-107 1 50 1 272 1-211 1-30 1-44 1 40 1-83 1 133 1-119 1 9 1-101 1 140 1 37 1-114 1 65 1 10 1 37 1 11 1-139 1 159 1-110 1 23 1-167 1 150 1-44 1 150 1-360 1 404 1-282 1 262 1-171 1 101 1-90 1-7 1 43 1-49 1 226 1-231 1 124 1-19 1-197 1 71 1 47 1-93 1 54 1-159 1 227 1-166 1 96 1 150 1-128 1 106 1 4 1-81 1 48 1-38 1 106 1-155 1 65 1 89 1-109 1 74 1-58 1 139 1-110 1 18 1-45 1-25 1-58 1 64 1-44 1 139 1-19 1 3 1-267 1 277 1-114 1-95 1 128 1-60 1 133 1-69 1-140 1 143 1-58 1 89 1 2 1-77 1 54 1 15 1-66 1 1 1 87 1-141 1 144 1-129 1 58 1 172 1-22 1-165 1 71 1 45 1-189 1 97 1-27 1 80 1-50 1 40 1 69 1-71 1-16 1-10 1 62 1-114 1 98 1-58 1-121 1 150 1-64 1 99 1 10 1-68 1 43 1 43 1 50 1-160 1 32 1-34 1-24 1 223 1-103 1-121 1 76 1 79 1-71 1 193 1-222 1 46 1-31 1-4 1 77 1-61 1-74 1 238 1-173 1-58 1 100 1 45 1-168 1 125 1-14 1-3 1-87 1 45 1 189 1-236 1-6 1 3 1 80 1 69 1-137 1-51 1 104 1 34 1-12 1-62 1-77 1 208 1-47 1 33 1-111 1 31 1-121 1 111 1 111 1-154 1 91 1-146 1 159 1-64 1 60 1-17 1-129 1 61 1-180 1 201 1-18 1 8 1 133 1-13 1 35 1-119 1-61 1-1 1 85 1 78 1-210 1 20 1 113 1-164 1 216 1-50 1 14 1-53 1 102 1-144 1 28 1 117 1-97 1-19 1 132 1-142 1-48 1-23 1 151 1-38 1-70 1 108 1-263 1 200 1 44 1 92 1-232 1 46 1 75 1 12 1 7 1 44 1-21 1-82 1 0 1 60 1-34 1-25 1 17 1-20 1 25 1 20 1-29 1 41 1-66 1 149 1-22 1-87 1-94 1 120 1 30 1-191 1 198 1-82 1 53 1 205 1-193 1 40 1-63 1-115 1 152 1-51 1-144 1 16 1-68 1 140 1 42 1 34 1 45 1-151 1-132 1 222 1-60 1 25 1 32 1 18 1-194 1 165 1 32 1-83 1-143 1 190 1 82 1 9 1-96 1 149 1-46 1-159 1 88 1-7 1 23 1-25 1 25 1 118 1-188 1 105 1-32 1-110 1 71 1 2 1 62 1 176 1-237 1-22 1 30 1 32 1-69 1 59 1 106 1-78 1-30 1-4 1-76 1-42 1 134 1 31 1-182 1 192 1 62 1-66 1-68 1 57 1-42 1-189 1 152 1 53 1-30 1-69 1 30 1 76 1-92 1 14 1-54 1 145 1-157 1 59 1 30 1 76 1-119 1 127 1-70 1-92 1 126 1-80 1-92 1 33 1 83 1 100 1 70 1 6 1-180 1-116 1 126 1 12 1-79 1 80 1 27 1-54 1-91 1 58 1 85 1-12 1 24 1-28 1-150 1 2 1 191 1-44 1 30 1-77 1 121 1-171 1 194 1-128 1 32 1-9 1 83 1-171 1 61 1-9 1-23 1 5 1-11 1 263 1-280 1 49 1 32 1-125 1 184 1-18 1-33 1 39 1-162 1 55 1 43 1-54 1 33 1-112 1 102 1-13 1 72 1-155 1 100 1 2 1 69 1-12 1-95 1 20 1 75 1-101 1 132 1 127 1-256 1 30 1 12 1 51 1-124 1 62 1-90 1 6 1 135 1-178 1 45 1 48 1 104 1-74 1-52 1-123 1 93 1 4 1 31 1 163 1-234 1 126 1-23 1-34 1-154 1 249 1-173 1 223 1-83 1 47 1-44 1 84 1-149 1 60 1 12 1-135 1 76 1-8 1-32 1 70 1-20 1-96 1 180 1 95 1-174 1 20 1-42 1 230 1-150 1-60 1-50 1 61 1 37 1 112 1-173 1 192 1-216 1 48 1 48 1-14 1-33 1 113 1-146 1 69 1-130 1 175 1-79 1 128 1-195 1 4 1 170 1 79 1-236 1 140 1-197 1 154 1-19 1-85 1 34 1 68 1 7 1-74 1 38 1 114 1-106 1 106 1-244 1 52 1 39 1 93 1-114 1 0 1-108 1 172 1-53 1 21 1 148 1-48 1-47 1-41 1 13 1 44 1-2 1-151 1 156 1 0 1-167 1 170 1-37 1 24 1-124 1 107 1-79 1 6 1 20 1 117 1-123 1 45 1-94 1 95 1 32 1-121 1 58 1-87 1 127 1-192 1 210 1-14 1-11 1 25 1-94 1 102 1 7 1-78 1 221 1-226 1 11 1-16 1-94 1 1 1 201 1 5 1-78 1 69 1-95 1 238 1-98 1-115 1-24 1 40 1 237 1-399 1 131 1 23 1-38 1 68 1-42 1 79 1 16 1-213 1 152 1 7 1-132 1 60 1 41 1-27 1 60 1-62 1 108 1-113 1 98 1 58 1-49 1-263 1 124 1 26 1-18 1 53 1 34 1-23 1 28 1 19 1-133 1 92 1 33 1-24 1 8 1 56 1 27 1 48 1-413 1 280 1-121 1 62 1 65 1-82 1 52 1-27 1 49 1-38 1-10 1 47 1 111 1-56 1-126 1 80 1 19 1-58 1 247 1-273 1-6 1 46 1-30 1-17 1 32 1 69 1-80 1 4 1-13 1-24 1-9 1 118 1 48 1-83 1-59 1-12 1 41 1-74 1 132 1 12 1-102 1 34 1 8 1 50 1-17 1-187 1 203 1 4 1-77 1 33 1 43 1-72 1 1 1 1 1 133 1-61 1-66 1-14 1 100 1-40 1 31 1-5 1 140 1-179 1 125 1-115 1-12 1 34 1 120 1-252 1 132 1-32 1 94 1-182 1 45 1 70 1 67 1-155 1 18 1 76 1 67 1-97 1-15 1 51 1-75 1 5 1 34 1 8 1 103 1-243 1 225 1-158 1 12 1 144 1-75 1 99 1-98 1-17 1 79 1-96 1-11 1 15 1 12 1 40 1-53 1-8 1 80 1-68 1 169 1-30 1-82 1 10 1-79 1-22 1-40 1 130 1-77 1 122 1-118 1 38 1 45 1-97 1 143 1-170 1 91 1-90 1 82 1-101 1 114 1 10 1-33 1-26 1 16 1 71 1 2 1-86 1 61 1-71 1-69 1 56 1 93 1-102 1 53 1 38 1-18 1-37 1 27 1-116 1 176 1-141 1 24 1 68 1-52 1 91 1-75 1 62 1-123 1 198 1-117 1-49 1 57 1-94 1 10 1 34 1-67 1 31 1 0 1 53 1 21 1 87 1-57 1-43 1 111 1-28 1-181 1 19 1 74 1 43 1 24 1-50 1 128 1 4 1-96 1-148 1 454 1-301 1-48 1-55 1 149 1-142 1 5 1 27 1-35 1-7 1 15 1 186 1-176 1 29 1-37 1 162 1-11 1-70 1-13 1-28 1 2 1-121 1 86 1-31 1 169 1-126 1 106 1-70 1 52 1-19 1-61 1 19 1 0 1 206 1-31 1-61 1-242 1-60 1 193 1-76 1 140 1-51 1-41 1 7 1-13 1 30 1-24 1 14 1-38 1 75 1-134 1 172 1-54 1-165 1 120 1 91 1-76 1 57 1-125 1 63 1-9 1 141 1-239 1 197 1-35 1 94 1-143 1 5 1-24 1 3 1-50 1 36 1-66 1 178 1-86 1-53 1-75 1-2 1 131 1 51 1-94 1 95 1-33 1-104 1-89 1 180 1 7 1 16 1-97 1-106 1 288 1-127 1 93 1-53 1-85 1 64 1 30 1 50 1-121 1-25 1 40 1 65 1-57 1-48 1 52 1 26 1-33 1 89 1-23 1-38 1 107 1-107 1-82 1 62 1-3 1-59 1 70 1-35 1 140 1-102 1-68 1-2 1 48 1 156 1-95 1-60 1-54 1-17 1 80 1-27 1-20 1-50 1 7 1 15 1 24 1-3 1 32 1 65 1 12 1-118 1 32 1-4 1 57 1-109 1 119 1-159 1 182 1 29 1-61 1-11 1-22 1 4 1-29 1 56 1-79 1 213 1-40 1-244 1 131 1 176 1-105 1-77 1 12 1-40 1 73 1-29 1 19 1-122 1 26 1-60 1 78 1 101 1-244 1 69 1 186 1-99 1-26 1 99 1 23 1 17 1-155 1 120 1-93 1-22 1 42 1 17 1 19 1-4 1-70 1-233 1 245 1 116 1 41 1-113 1-59 1 114 1-77 1 25 1-15 1-79 1 86" fill="none" stroke="#ee0088" stroke-width="0.3" vector-effect="non-scaling-stroke" stroke-linejoin="bevel"/>
<path transform="translate(328.9 0) scale(0.034406 0.1)" d="M0 569l1 189 1-209 1 2 1 72 1 3 1 2 1 8 1 66 1-88 1-4 1 125 1-318 1 191 1-88 1 85 1 91 1 17 1 49 1-175 1 16 1-48 1-14 1 81 1 361 1-300 1-40 1 98 1-232 1 268 1-122 1 70 1-31 1-50 1-44 1-68 1 100 1 19 1 89 1-135 1-28 1-64 1 127 1-106 1-11 1 82 1-57 1 168 1-105 1-240 1 119 1 116 1-100 1 84 1 24 1 7 1 21 1 81 1-213 1 61 1 162 1-177 1 42 1-41 1 279 1-264 1 142 1 68 1-120 1 1 1 0 1-48 1 80 1 29 1-186 1 70 1 18 1-103 1 48 1 89 1-3 1 22 1-5 1-170 1 108 1-70 1 43 1-27 1 161 1-29 1-161 1 79 1 24 1 115 1-173 1-35 1 150 1-146 1 160 1-15 1-115 1 87 1-122 1 53 1-35 1 120 1-38 1 1 1-37 1 77 1-70 1 19 1 41 1 15 1-82 1 76 1-43 1 12 1-32 1 69 1-64 1-32 1 167 1-122 1 113 1-112 1 21 1 51 1 14 1-7 1-76 1-7 1-54 1 30 1 151 1-54 1-36 1-113 1 169 1-77 1 31 1 44 1 12 1-105 1 53 1-97 1 50 1-83 1 81 1 89 1-132 1 84 1-109 1 67 1 77 1-5 1-175 1 83 1 81 1-213 1 193 1-56 1 84 1-97 1 53 1-37 1 24 1-70 1 59 1-41 1-33 1 155 1-110 1 101 1-63 1-30 1-10 1-13 1-1 1-177 1 270 1 28 1 48 1-142 1-53 1 149 1-132 1 48 1 141 1-114 1 27 1-40 1 65 1-139 1 83 1 95 1-130 1-47 1 166 1-16 1-32 1 86 1-62 1-3 1-101 1 160 1-207 1 111 1-98 1 41 1 88 1 35 1-92 1 85 1-94 1-39 1 88 1-72 1 1 1 135 1-149 1 183 1 14 1-221 1 122 1 50 1-119 1-61 1 170 1-51 1-15 1-38 1-34 1-86 1 131 1-28 1 173 1-168 1 13 1-58 1 44 1 136 1-71 1-73 1 157 1-247 1 167 1-17 1-10 1 14 1-8 1-12 1 49 1-71 1 13 1 176 1-185 1 97 1 41 1-88 1-58 1 46 1 131 1 7 1 11 1-178 1 63 1-98 1 142 1-65 1-59 1 101 1-84 1 9 1-9 1 141 1-166 1 109 1-26 1 10 1-11 1-147 1 176 1-144 1 83 1-28 1-135 1 85 1 77 1 43 1-123 1 44 1-9 1 33 1 274 1-310 1-16 1-17 1 138 1-230 1 309 1-11 1-105 1 77 1-56 1-54 1-82 1 64 1-154 1 155 1-88 1 141 1-74 1 9 1 186 1-138 1-50 1 45 1-106 1 50 1 81 1-75 1 58 1 291 1-313 1 39 1-1 1-9 1-39 1-11 1 25 1 3 1 11 1 92 1-103 1-14 1-10 1 58 1-128 1 101 1-91 1 200 1-123 1-54 1 82 1-31 1 216 1-195 1-102 1 29 1 112 1-32 1-34 1-73 1 113 1-53 1-10 1 83 1 89 1-83 1-143 1 99 1-85 1-45 1 116 1-20 1 110 1-170 1 6 1 153 1-119 1 41 1-17 1 123 1-174 1 104 1-48 1-22 1 12 1-88 1 96 1-31 1 206 1-141 1-21 1-50 1-55 1 53 1 199 1-45 1-87 1-295 1 151 1 123 1-5 1-61 1 20 1 204 1-328 1 147 1-1 1 147 1-52 1-259 1 143 1 61 1-67 1-56 1 137 1-42 1-55 1 62 1 3 1-42 1 86 1-69 1 1 1 67 1-86 1 136 1-173 1 170 1-31 1-65 1 22 1 47 1-86 1 130 1-160 1 1 1 54 1-37 1 7 1-66 1 72 1 79 1-39 1 173 1-183 1-169 1 256 1-123 1 67 1-15 1-62 1 66 1 40 1-132 1-38 1-3 1 35 1 21 1 100 1 165 1-193 1 21 1-116 1-19 1 60 1-131 1 87 1 23 1 108 1-38 1-28 1 27 1-88 1-13 1 155 1-36 1-61 1-184 1 391 1-129 1-55 1-34 1-67 1-2 1 182 1-54 1-19 1-80 1-5 1-47 1 141 1 22 1 21 1-181 1 125 1 69 1-51 1-66 1 25 1-46 1 37 1-46 1 132 1-30 1-28 1-5 1-8 1-48 1 18 1 7 1-26 1 28 1 68 1-272 1 293 1-60 1 5 1 42 1-8 1-63 1 55 1-75 1 176 1-245 1 138 1 20 1-70 1 81 1-69 1-103 1 128 1 112 1-43 1-59 1-84 1 102 1-86 1 43 1 16 1-44 1 13 1 41 1-6 1-38 1 14 1 45 1 30 1-55 1-35 1-70 1 116 1-147 1 8 1 92 1-44 1 58 1 50 1 96 1-144 1 77 1-13 1-122 1 132 1-67 1-46 1 32 1-27 1 171 1-188 1-83 1 202 1 5 1-29 1 44 1-196 1 141 1-131 1 264 1-150 1 45 1-56 1 135 1-111 1-67 1 28 1 14 1 47 1 61 1-141 1 95 1-20 1 32 1-34 1 127 1-276 1-3 1 17 1 94 1-229 1 234 1 73 1 44 1-42 1-131 1-40 1 161 1-202 1 169 1-106 1 14 1 152 1-142 1 74 1 40 1-47 1-34 1 1 1 43 1-34 1-37 1 79 1-149 1 178 1-161 1 223 1-263 1 227 1 0 1-92 1-45 1 46 1 71 1-55 1 26 1-104 1 134 1-125 1 44 1 75 1-31 1 56 1-87 1-2 1 122 1-17 1-13 1 2 1-62 1-19 1-6 1 80 1-13 1 52 1-168 1 43 1 34 1 63 1-51 1 26 1 96 1-106 1-70 1 55 1 39 1-71 1 42 1-91 1 10 1 77 1 43 1-103 1 92 1-24 1-132 1 32 1 237 1-146 1-53 1 177 1-142 1 121 1-131 1-10 1 66 1-21 1-65 1 54 1 26 1-66 1-14 1 4 1-70 1 5 1 191 1-105 1-281 1 201 1 74 1 129 1-113 1-9 1-2 1 22 1-2 1 162 1-299 1 70 1 24 1 13 1-4 1-106 1 202 1 14 1-191 1 175 1-30 1 29 1-8 1-86 1 22 1-52 1 64 1-37 1 63 1 82 1-235 1 146 1-114 1 90 1-10 1 56 1-137 1 108 1-55 1 11 1 14 1 96 1-181 1 19 1-18 1 59 1 36 1-6 1 37 1-90 1 126 1-53 1 131 1-71 1-166 1 51 1 74 1-79 1 72 1-80 1-88 1 51 1 48 1 72 1-102 1 183 1-110 1-38 1 130 1-131 1 60 1 112 1-95 1-58 1 30 1 5 1-13 1 191 1-185 1-138 1 164 1 2 1 76 1-28 1 4 1-24 1 163 1-217 1-68 1 16 1-34 1 65 1 52 1 81 1-212 1-28 1-14 1 74 1 101 1-96 1 96 1-16 1 34 1-220 1 214 1-94 1 3 1-11 1 131 1-194 1 178 1-88 1 148 1-186 1 28 1 59 1-84 1 49 1-54 1 24 1 3 1 33 1 16 1-71 1 45 1 9 1-127 1 57 1-88 1 33 1 165 1-163 1 124 1-53 1 35 1-115 1 89 1 260 1-279 1 37 1 26 1 34 1-70 1 45 1-89 1 67 1 82 1-16 1-141 1 111 1 28 1-26 1 28 1-151 1 58 1 81 1-215 1 76 1 113 1-12 1-184 1 146 1-35 1 83 1 28 1-37 1-128 1 17 1 85 1-40 1 153 1-62 1 8 1-45 1-126 1 123 1-49 1 55 1-176 1 90 1 61 1 6 1 23 1-119 1 15 1 98 1-12 1 130 1-131 1 139 1-130 1 76 1-137 1 125 1 95 1-186 1-31 1 117 1-117 1 74 1 24 1-62 1-5 1-74 1 66 1 39 1 50 1-238 1 93 1 48 1-87 1 26 1-46 1 125 1-13 1-10 1 17 1-118 1 85 1 91 1-94 1 100 1-127 1 121 1-1 1-16 1-110 1 38 1 55 1-31 1-6 1-56 1 18 1 32 1-33 1-11 1-26 1 103 1 11 1-102 1 28 1 174 1-86 1-27 1-25 1 178 1-229 1 85 1-20 1 60 1-91 1 115 1-237 1 128 1 31 1 108 1-60 1-141 1 87 1 64 1-108 1 0 1 135 1 52 1-196 1-2 1 130 1-103 1 90 1-2 1 10 1-93 1 34 1-283 1 275 1 89 1-71 1-136 1 205 1-56 1-2 1-107 1 129 1 98 1-169 1-24 1 62 1-113 1 72 1-5 1 41 1-132 1 349 1-251 1-92 1 2 1 155 1-75 1 47 1-161 1 81 1-3 1 118 1-37 1 4 1-17 1-57 1 49 1-60 1 97 1-60 1 61 1-230 1 164 1 9 1 59 1-33 1-144 1 185 1-131 1 24 1-66 1 193 1-18 1-103 1 127 1-88 1-32 1 41 1 10 1-119 1 115 1-26 1-103 1 45 1 65 1-28 1 45 1 74 1-83 1-23 1 42 1-70 1 199 1-315 1 247 1-16 1-59 1 5 1 32 1-113 1-3 1 146 1-26 1-48 1 29 1-87 1-96 1 208 1-123 1 51 1-26 1 43 1-8 1 34 1-136 1 126 1-56 1 92 1 81 1-32 1-34 1 32 1-113 1 125 1-15 1-69 1-19 1-75 1 100 1 156 1-71 1 114 1-293 1 63 1 44 1-82 1 39 1 44 1-30 1 172 1-313 1 97 1 144 1-67 1-250 1 199 1-53 1 54 1 67 1-60 1 24 1 27 1 20 1-130 1-2 1 198 1 152 1-283 1 74 1-99 1 27 1 94 1-30 1-46 1 70 1-141 1 77 1-100 1 80 1 51 1 49 1-168 1-13 1 74 1 66 1-150 1 160 1-111 1 65 1-107 1 119 1 6 1-58 1-186 1 286 1-124 1 23 1-50 1 29 1-96 1 135 1 85 1 52 1-194 1 78 1 55 1-87 1-12 1 56 1 50 1-117 1 82 1-39 1-121 1-7 1 110 1 99 1 5 1-112 1-2 1 32 1 65 1-163 1 115 1 163 1-215 1 66 1 11 1-111 1-27 1 21 1 73 1 84 1 37 1 13 1-88 1-67 1-44 1 27 1 2 1 85 1-29 1-17 1-67 1 36 1 9 1-79 1 121 1-115 1 45 1-64 1 186 1-106 1 41 1-34 1-3 1 21 1-103 1-47 1 97 1 188 1-88 1-71 1-26 1 65 1 50 1-75 1 156 1-130 1-52 1-3 1-34 1-23 1 68 1 29 1-45 1 198 1-257 1 166 1 18 1-68 1 110 1-120 1-18 1 53 1 121 1-124 1-77 1 54 1 89 1-72 1 12 1-48 1 108 1-152 1 47 1 41 1 122 1 6 1-177 1-6 1-38 1 12 1 156 1-40 1-26 1 1 1-123 1 97 1 68 1-35 1-22 1-84 1 13 1 50 1 7 1 62 1-115 1-51 1 147 1 72 1-159 1 16 1 36 1-46 1 86 1 38 1 91 1-296 1-25 1 75 1 230 1-187 1 137 1-219 1 23 1 50 1 100 1-130 1 101 1-16 1-50 1 18 1 16 1-57 1 79 1-1 1 125 1-106 1-116 1 55 1 41 1-4 1 34 1-175 1 95 1 80 1-234 1 187 1-144 1-4 1 97 1-15 1-12 1 82 1 1 1-33 1 294 1-309 1-45 1 109 1-37 1 6 1 44 1-35 1-42 1-27 1 76 1-71 1 70 1 29 1-34 1-69 1-9 1-7 1 105 1-102 1 11 1 92 1-82 1 6 1-16 1-34 1 102 1-90 1 133 1-16 1-64 1-46 1 43 1-21 1 30 1 82 1-102 1 68 1 80 1-150 1 48 1 48 1 17 1-124 1-122 1 152 1 43 1 16 1-11 1 15 1 7 1-64 1 119 1-19 1-76 1 107 1-7 1 37 1-171 1-45 1 15 1 60 1-31 1-55 1 49 1 10 1-1 1-15 1-13 1 91 1-123 1 402 1-352 1-26 1-15 1 111 1-30 1 85 1-91 1-5 1-9 1-7 1-41 1 69 1-103 1 59 1 82 1 71 1-145 1-4 1 119 1-156 1-186 1 305 1-25 1 33 1-82 1 129 1-32 1-47 1-96 1 148 1-42 1-38 1 71 1-26 1-26 1-71 1 58 1-46 1 9 1 56 1 39 1-178 1 225 1 39 1-227 1 7 1 36 1-107 1 125 1 84 1-74 1 92 1-78 1 140 1-162 1-143 1 193 1 60 1-38 1-13 1-60 1-9 1-14 1 229 1-159 1-25 1 130 1-237 1 148 1-44 1 133 1-63 1-50 1 34 1-18 1-70 1 123 1-17 1-189 1 110 1 126 1-155 1 48 1-95 1 105 1 72 1-109 1 36 1-2 1-70 1-16 1 17 1 185 1-11 1-102 1 41 1-139 1 15 1-40 1 51 1 99 1-134 1 24 1 83 1-10 1-20 1-2 1-168 1 244 1-43 1 25 1 38 1-38 1 76 1-185 1 228 1-160 1-1 1-109 1 311 1-221 1-86 1 67 1 2 1-54 1 115 1 18 1 103 1-281 1 185 1-154 1-12 1 71 1 15 1 49 1-101 1 5 1-116 1 308 1-181 1-17 1 125 1 43 1 114 1-356 1 160 1 50 1-122 1-49 1-20 1 133 1 18 1-18 1-41 1-10 1 103 1 34 1-83 1 39 1 63 1-158 1 142 1-151 1 8 1 51 1 35 1-18 1-19 1-50 1 70 1 1 1 206 1-61 1-149 1-24 1 71 1 55 1-116 1-50 1 25 1-48 1-2 1 47 1 12 1 108 1-32 1-120 1 110 1-36 1-94 1-41 1 104 1 114 1-113 1 94 1-109 1-4 1-55 1 100 1-53 1-86 1 160 1-9 1 48 1-175 1 150 1-89 1-54 1-23 1 83 1 118 1 11 1-168 1 88 1 42 1-77 1-96 1 183 1-8 1-132 1 165 1-108 1-32 1 55 1 136 1-146 1-1 1-38 1-56 1 5 1 175 1-210 1 285 1-143 1 52 1-125 1 65 1-266 1 26 1 190 1 13 1 33 1 76 1-192 1 183 1-43 1 40 1-40 1 133 1-202 1 65 1-58 1 14 1 59 1-144 1 98 1-74 1 11 1 84 1 74 1 116 1-141 1-21 1-198 1 221 1-195 1 187 1-45 1-62 1 74 1 10 1-61 1 25 1 94 1-89 1-100 1 109 1-83 1-105 1 299 1-170 1 52 1-18 1 69 1-152 1 18 1 113 1 4 1 80 1-128 1 32 1-112 1 53 1 57 1-77 1 173 1-134 1-157 1 231 1 39 1-54 1-77 1 1 1 99 1-61 1-17 1 113 1-121 1 7 1-9 1-65 1 24 1-92 1 179 1-36 1 74 1-47 1 186 1-227 1-30 1 130 1-48 1-49 1-62 1 58 1 35 1 143 1-72 1-117 1 93 1-71 1-8 1 64 1-42 1 77 1-98 1 50 1 62 1 17 1-119 1-108 1 269 1-177 1 12 1 73 1-81 1-25 1 33 1-169 1 137 1-8 1 19 1-87 1 32 1 153 1-30 1-123 1 211 1-110 1-13 1 119 1-119 1-3 1-34 1 33 1 21 1 239 1-123 1-154 1 0 1 183 1-231 1 91 1-40 1 98 1 53 1-111 1 23 1-113 1 30 1 45 1 185 1-163 1 9 1-156 1 94 1 72 1-82 1 74 1 3 1-85 1 37 1-31 1 161 1-278 1 224 1-52 1-5 1-27 1 72 1-75 1 78 1-188 1 172 1 138 1-124 1-79 1 64 1 19 1 75 1-114 1-65 1 52 1-90 1 330 1-168 1-182 1 207 1-99 1-74 1 33 1 2 1 80 1 75 1-124 1-87 1 202 1-170 1 130 1-66 1 49 1 29 1-36 1-118 1 145 1-73 1-67 1 180 1-186 1 147 1-144 1 95 1 61 1-211 1 119 1-41 1-52 1 120 1-43 1 34 1-77 1 15 1-7 1-47 1-37 1 109 1-83 1 114 1 28 1-369 1 360 1-141 1 47 1 118 1-153 1 100 1-24 1-77 1 57 1 50 1-33 1-113 1 139 1 16 1-49 1 122 1-73 1-53 1 8 1-14 1 63 1-25 1 32 1-165 1 158 1-51 1-112 1 138 1 6 1 30 1 33 1-206 1 227 1-133 1 68 1 38 1-12 1-35 1 101 1-161 1 36 1 27 1-121 1 230 1-196 1 129 1 72 1-74 1-133 1 173 1-120 1 56 1 24 1-126 1 69 1-152 1 214 1-72 1 40 1 91 1-26 1-123 1 153 1-174 1 20 1 102 1 131 1-202 1 168 1-228 1 134 1-102 1 17 1 75 1-66 1 2 1-65 1-25 1 64 1 133 1 15 1-194 1 158 1 50 1-111 1 7 1-3 1 117 1-175 1 5 1 21 1-118 1 43 1 183 1-10 1 99 1-227 1-24 1 23 1 108 1-58 1-33 1 38 1-72 1 90 1 56 1-70 1-37 1 86 1-85 1 56 1-108 1 20 1 16 1 28 1-53 1 68 1 73 1 90 1-221 1 178 1-62 1-21 1-73 1 95 1-65 1 60 1-90 1-15 1-34 1 43 1 346 1-350 1 36 1-82 1 98 1-128 1 61 1 60 1 97 1-60 1-26 1 66 1-148 1 67 1 107 1-5 1-37 1-157 1 82 1-75 1-23 1 207 1 40 1-58 1-27 1 26 1-109 1-38 1-83 1 134 1 94 1-96 1 25 1-47 1-5 1 208 1-215 1 56 1-23 1 119 1-115 1-163 1 63 1 71 1 33 1 37 1-109 1 193 1-139 1 164 1-9 1-105 1 49 1-66 1-76 1-21 1-4 1 93 1 58 1 44 1-213 1 56 1 41 1 5 1 50 1-97 1-18 1 87 1 40 1-60 1-82 1 10 1 99 1-28 1 68 1-20 1-46 1-25 1 176 1-12 1-194 1-25 1-7 1 79 1 40 1 120 1-183 1-72 1 3 1 127 1-68 1 156 1-97 1-12 1-24 1 204 1-94 1-165 1 58 1-153 1 106 1-28 1 6 1 37 1-93 1 74 1 202 1-269 1 132 1-58 1 38 1 45 1 20 1 41 1-250 1 143 1-83 1 201 1 4 1-210 1 36 1-41 1-31 1 156 1-28 1-94 1-12 1 165 1-155 1 236 1-88 1-40 1 37 1-29 1-78 1 43 1 81 1 4 1-119 1 107 1-165 1 135 1 17 1-114 1 117 1-2 1 89 1-219 1-130 1 236 1-26 1 54 1-15 1-4 1-8 1-85 1 126 1-80 1-14 1 22 1 36 1-7 1 43 1-68 1-126 1 122 1-34 1 70 1-77 1 31 1 55 1 25 1-127 1 154 1-72 1-94 1 110 1 25 1 69 1-96 1 70 1-173 1 125 1-5 1-52 1-2 1 14 1 23 1-77 1 109 1-80 1-100 1 144 1-41 1 70 1 135 1-251 1 16 1 99 1-87 1-26 1-47 1 44 1-246 1 348 1-86 1 217 1-148 1 28 1 40 1-25 1-22 1 77 1-43 1-18 1 27 1-219 1 168 1 42 1-21 1-43 1 3 1-76 1 99 1-10 1-42 1 39 1-73 1 1 1 132 1-35 1-56 1-97 1 231 1-171 1 74 1-64 1 35 1-1 1-79 1 106 1 214 1-265 1-72 1 100 1 149 1-135 1 3 1 14 1-38 1 7 1 160 1-139 1-36 1 29 1-23 1-23 1 115 1-18 1-101 1 72 1-49 1 5 1-75 1 165 1-37 1-97 1-2 1 149 1-42 1 37 1-77 1 44 1-9 1-172 1 245 1-208 1 68 1 205 1-209 1-42 1 12 1 41 1 67 1-62 1 150 1-7 1-182 1 307 1-153 1-196 1-96 1 156 1-80 1 83 1-83 1 106 1 14 1 13 1-16 1 118 1-104 1 81 1-82 1 100 1-141 1 125 1-146 1 49 1 16 1 85 1-44 1-112 1 21 1 138 1-48 1 176 1-219 1-50 1 2 1 0 1 111 1 34 1-114 1-15 1 46 1 17 1-186 1 179 1 35 1 1 1-31 1-181 1 95 1 140 1-136 1-37 1-12 1 147 1-22 1 73 1-126 1 80 1-61 1-96 1 189 1 1 1-180 1-41 1 465 1-387 1 3 1 130 1-100 1-7 1 103 1-46 1-95 1 104 1 53 1-21 1 5 1-53 1 42 1 47 1-73 1-92 1 76 1-200 1 131 1 52 1 44 1-31 1 72 1-222 1 244 1 25 1-158 1 165 1-131 1-31 1-6 1 233 1-52 1-263 1 181 1 98 1-176 1-181 1 319 1-34 1 0 1-77 1-129 1 207 1-80 1 9 1 30 1 61 1-108 1 112 1-133 1 183 1-162 1-41 1 96 1 12 1-58 1-43 1 122 1-15 1-112 1-6 1-62 1 210 1-7 1-42 1-181 1 155 1-54 1-25 1 195 1-184 1 43 1 89 1 38 1-113 1-68 1 35 1 14 1 11 1 200 1-248 1 12 1 24 1-27 1 79 1-92 1 2 1 151 1 1 1-207 1 227 1-98 1-2 1-87 1 113 1-56 1 154 1-87 1 41 1-14 1-98 1 76 1-109 1-63 1-30 1 198 1-22 1-16 1 75 1-79 1-157 1 114 1-17 1-47 1 162 1-63 1 19 1-39 1 61 1-113 1 160 1-143 1-95 1 176 1 9 1-99 1 55 1-9 1 109 1-137 1 118 1-95 1 79 1-15 1-120 1 6 1 189 1-76 1-117 1 128 1-63 1-96 1-2 1 18 1 161 1-106 1 50 1-61 1-34 1 98 1-102 1 217 1 38 1-134 1 145 1-209 1 61 1 80 1-168 1 170 1-12 1-177 1 94 1-111 1 158 1-84 1-45 1 27 1 29 1 5 1 51 1-146 1 207 1-5 1-117 1 66 1-69 1-45 1 96 1-17 1 41 1-140 1 231 1-167 1-148 1 217 1-106 1 15 1 104 1 29 1-135 1-21 1-17 1 61 1-9 1-6 1 33 1 22 1 27 1-107 1 105 1-111 1 11 1 88 1-169 1 110 1-60 1 72 1 14 1 0 1 176 1-138 1-97 1 131 1-129 1 210 1-85 1-128 1-34 1-9 1 42 1-40 1-53 1 23 1 204 1-43 1-185 1 132 1-113 1 105 1 73 1 19 1 29 1-71 1 98 1-159 1 77 1-75 1-22 1-41 1 146 1 14 1-115 1 121 1-170 1 121 1 24 1 53 1-270 1 180 1 19 1-110 1 57 1 41 1-82 1 103 1 34 1-58 1-22 1-100 1 62 1 75 1-65 1 125 1-217 1 30 1 92 1 47 1 23 1 11 1-74 1-64 1 71 1-111 1 78 1 244 1-102 1-185 1 187 1-191 1-49 1 138 1 29 1-106 1 100 1 20 1-8 1-112 1 79 1-121 1 63 1 6 1 57 1-70 1-53 1 142 1-10 1 3 1-49 1-30 1 35 1-81 1 237 1-46 1-199 1 207 1-204 1 61 1-8 1 12 1 116 1-83 1-13 1-20 1-20 1 91 1 4 1-9 1-54 1 147 1-83 1-36 1 3 1-109 1 12 1 155 1-115 1 79 1-30 1 4 1 85 1 33 1-135 1 82 1-34 1 62 1-170 1 8 1 231 1-164 1 48 1-40 1-35 1 40 1 22 1-28 1-90 1-14 1 14 1 35 1 56 1-102 1 179 1-242 1 100 1 12 1-114 1 73 1 43 1-75 1 24 1 46 1-85 1 72 1 63 1-83 1 64 1-6 1-117 1 196 1-64 1 59 1-97 1 84 1-136 1 63 1-24 1-52 1-34 1 76 1 25 1 5 1 96 1-12 1 119 1-112 1-99 1-57 1 70 1 45 1-38 1 193 1-82 1-97 1-60 1 137 1-69 1 8 1 37 1-34 1-125 1 134 1-163 1 30 1 82 1 94 1-135 1 107 1-150 1 115 1-9 1-27 1-3 1 18 1-137 1 56 1 63 1 179 1-191 1-50 1 81 1-88 1 300 1-296 1 95 1 34 1 105 1-141 1 36 1 83 1-65 1-158 1 120 1-82 1-7 1 39 1 37 1-83 1 45 1 86 1-31 1-74 1-52 1 118 1-48 1-62 1 27 1 181 1-194 1-36 1 12 1 118 1 62 1-87 1-25 1 22 1-39 1 32 1-72 1 50 1 7 1-95 1 200 1-107 1 94 1-142 1-7 1 178 1-246 1 95 1 106 1 4 1 14 1-205 1 165 1-3 1-99 1 211 1-159 1 69 1 7 1-246 1 275 1-95 1-73 1 77 1 33 1 30 1 4 1-119 1 30 1-115 1 150 1-33 1-24 1-4 1 103 1 151 1-275 1 52 1-17 1 92 1-50 1 63 1-56 1-18 1-51 1 56 1 78 1-159 1 141 1-45 1 62 1-117 1 94 1-30 1-38 1 75 1-318 1 158 1 49 1 19 1-14 1 69 1-25 1-1 1 31 1-94 1 3 1 96 1 11 1-17 1 3 1-34 1-9 1-57 1 6 1 113 1 10 1 113 1-274 1 111 1-71 1-47 1 234 1-103 1-66 1 85 1-88 1 83 1-2 1-90 1 148 1-57 1 95 1-216 1 163 1-217 1 117 1-28 1 134 1-79 1 89 1-112 1-47 1 39 1-11 1 20 1-43 1 13 1-117 1 236 1-71 1 98 1-187 1-11 1 200 1-104 1 33 1-115 1 53 1 87 1-113 1 123 1-280 1 282 1-149 1 119 1-20 1 0 1-46 1-10 1 96 1 19 1-171 1-108 1 214 1 58 1 9 1 105 1-185 1 45 1-53 1 56 1 30 1 12 1-135 1 33 1 17 1 24 1 57 1-102 1 7 1 27 1-28 1 44 1-61 1 138 1-154 1 152 1-123 1-14 1 67 1 46 1-83 1-51 1 118 1-32 1 24 1-91 1 11 1-123 1 213 1-66 1-48 1 109 1 21 1-141 1 142 1 27 1-95 1 47 1 49 1-101 1-20 1 84 1-177 1 180 1-62 1-35 1 3 1-57 1 152 1-71 1 59 1-193 1 134 1-44 1 56 1 58 1 58 1 48 1-226 1 29 1 40 1 6 1-18 1-48 1 66 1-139 1 287 1 134 1-341 1 52 1 3 1-30 1-41 1 96 1-33 1-83 1 101 1 51 1-171 1 122 1-29 1-20 1 30 1 98 1-231 1 167 1 49 1-26 1-126 1 144 1-49 1-175 1 128 1-11 1 109 1-132 1 175 1-88 1 15 1-26 1-56 1-80 1 8 1 148 1-17 1 141 1 36 1-142 1-118 1 62 1-119 1 88 1 44 1 89 1-45 1-76 1 70 1-10 1 16 1-111 1 27 1-1 1 54 1-242 1 143 1 113 1 112 1-164 1 14 1-13 1 68 1 111 1-208 1 96 1-137 1 146 1 67 1-69 1-36 1 35 1 62 1-85 1-73 1 47 1 111 1-139 1 137 1-127 1 54 1-149 1 169 1-7 1-77 1 118 1-61 1 18 1-52 1-62 1 111 1-12 1 32 1-130 1 167 1-119 1 149 1-41 1-161 1 207 1-234 1 5 1 203 1 60 1-126 1 53 1-129 1 152 1-81 1 76 1-49 1-50 1 15 1 23 1-14 1 44 1-14 1-160 1 55 1-102 1 153 1-165 1 254 1-251 1 133 1 48 1 31 1 24 1-74 1 89 1-66 1 5 1 53 1-85 1-1 1-79 1 249 1-240 1 20 1 81 1-99 1 29 1 166 1-234 1 52 1 80 1-80 1 33 1-31 1 87 1 42 1 61 1 45 1-215 1 52 1 21 1 16 1 1 1-42 1 137 1-65 1-50 1-64 1 160 1 17 1-128 1 12 1 15 1 69 1-89 1-16 1 132 1-138 1 75 1-41 1 35 1-127 1 60 1 132 1-235 1 229 1-34 1-113 1 11 1 39 1-107 1 129 1 47 1-257 1 102 1-33 1 66 1 74 1-122 1 110 1-105 1 5 1 66 1-146 1 83 1 39 1-25 1 73 1-90 1 86 1 35 1-77 1-27 1 52 1-6 1-64 1 15 1 96 1 74 1-58 1-144 1-44 1 390 1-220 1-49 1 114 1-118 1-32 1 77 1 0 1 7 1-79 1-62 1 179 1-111 1 68 1-52 1 12 1-119 1 72 1 45 1-42 1 82 1 106 1-169 1 82 1 7 1-5 1-143 1 45 1 44 1 92 1-102 1 32 1 56 1-11 1-42 1 48 1-61 1-54 1-92 1 84 1 257 1-239 1-3 1 59 1 19 1 121 1-45 1-241 1 58 1 13 1 85 1-54 1-94 1 78 1 163 1-139 1-6 1 89 1-102 1 204 1-140 1-92 1 55 1-149 1 96 1 22 1-52 1 75 1 18 1 9 1-48 1 12 1-25 1 130 1-146 1 69 1-72 1 3 1 152 1-138 1 103 1 15 1-128 1 113 1-149 1 21 1 171 1-129 1 95 1-49 1-103 1-12 1 140 1-192 1 208 1-75 1-35 1 81 1-149 1 51 1-55 1-78 1 28 1 290 1-110 1 92 1-83 1 30 1-87 1-18 1 43 1-13 1-20 1-56 1 32 1 6 1 259 1-222 1 72 1-19 1 0 1-81 1 34 1 80 1-127 1-17 1-1 1 128 1-48 1-41 1 53 1 58 1-72 1-94 1 51 1 54 1-49 1-3 1 36 1 37 1 98 1-47 1-79 1-43 1-170 1 158 1 28 1 33 1 11 1-80 1 84 1-115 1 129 1-107 1 110 1-88 1 36 1-42 1 135 1-102 1-174 1 148 1 80 1-28 1-95 1 89 1 23 1-108 1 153 1 46 1-172 1-41 1-20 1 79 1 21 1-46 1 69 1 18 1-86 1 90 1-101 1 41 1-70 1 136 1-123 1 102 1-75 1 79 1-84 1 90 1-117 1 182 1-229 1 118 1-40 1-78 1 181 1-96 1 18 1-63 1 69 1 65 1-117 1 39 1-62 1 101 1 3 1 30 1-19 1 62 1-96 1-106 1 135 1-43 1-83 1 63 1-59 1 73 1 141 1-246 1 87 1 49 1-147 1 222 1-125 1 20 1-42 1 128 1-126 1 27 1-6 1 43 1 32 1-41 1-46 1 39 1 88 1-104 1 234 1-224 1 79 1-113 1-9 1 105 1-103 1 8 1 130 1-136 1 36 1-173 1 286 1-140 1-252 1 239 1 131 1-91 1-16 1 27 1-23 1-69 1 135 1-23 1-10 1-8 1-15 1 24 1-3 1 41 1-209 1 44 1 22 1 108 1-76 1 59 1-154 1 196 1 1 1 143 1-173 1-39 1-34 1-57 1 45 1-27 1 36 1 58 1-54 1 67 1-141 1 91 1 46 1 53 1-16 1 11 1-58 1 113 1-68 1-52 1-12 1-83 1 29 1 123 1-119 1 87 1 28 1-41 1 118 1-89 1-68 1 37 1-81 1-11 1 63 1 61 1-171 1 73 1 114 1 7 1-120 1 56 1 97 1-49 1-83 1 25 1-19 1 141 1-88 1-152 1 248 1-117 1-61 1 18 1 61 1 39 1-121 1 47 1 10 1-28 1 58 1-27 1-24 1-133 1 125 1-46 1 110 1 25 1 28 1-200 1-12 1 98 1 114 1-8 1-96 1 178 1-190 1 116 1-105 1 70 1-36 1-36 1-49 1 121 1-96 1 37 1-32 1 84 1-90 1 57 1 25 1-38 1-33 1 72 1-27 1-135 1 203 1-132 1-153 1 211 1-117 1 153 1-65 1-78 1-1 1 81 1 51 1-188 1-69 1 256 1 23 1 14 1-102 1 58 1-195 1 177 1 9 1-63 1-78 1-21 1 244 1-108 1 1 1 51 1 4 1-134 1 48 1 90 1 50 1-214 1 189 1-134 1 121 1-22 1 34 1-30 1 23 1-145 1-57 1 167 1-131 1 104 1 134 1-100 1-38 1-26 1 147 1 59 1-239 1-23 1 49 1-12 1 46 1-92 1 308 1-69 1-184 1 12 1 53 1-9 1 20 1 47 1-24 1 54 1-75 1-164 1 143 1 11 1 22 1-206 1 93 1 196 1-161 1 38 1-46 1 52 1-118 1 151 1 25 1 53 1-7 1-72 1-57 1 27 1-68 1 27 1 52 1-22 1-1 1 10 1-102 1 194 1-139 1 14 1 131 1-79 1-11 1 7 1 18 1-235 1 126 1 111 1-111 1 82 1-78 1 233 1-173 1-137 1-5 1 138 1 66 1-147 1 94 1-130 1-94 1 241 1 35 1 26 1-81 1 22 1-27 1-10 1-163 1 173 1-46 1 150 1-52 1 13 1-114 1 28 1 2 1 91 1-23 1 47 1-66 1 46 1 99 1-161 1-34 1-30 1 146 1-78 1 53 1 8 1-72 1-8 1 131 1-43 1-140 1 73 1-91 1 57 1 98 1-214 1 182 1-44 1 155 1-255 1 53 1 17 1 11 1 297 1-273 1-40 1 5 1-4 1 39 1 63 1-83 1 63 1 5 1-38 1-64 1 117 1-102 1 11 1 12 1 80 1-13 1 93 1-79 1-127 1 211 1-134 1-60 1 147 1-146 1 4 1 42 1-77 1 119 1-54 1 0 1 84 1 18 1 9 1-26 1-55 1 18 1-217 1 132 1 50 1-124 1-32 1 155 1-6 1-133 1 81 1-63 1 31 1-69 1 147 1-128 1 50 1 89 1-187 1 218 1-33 1-160 1 114 1 30 1 47 1-46 1-73 1 105 1-149 1 114 1 96 1-123 1 25 1-131 1 297 1-155 1-52 1 28 1 113 1-205 1 126 1-2 1 16 1-17 1-45 1-37 1 86 1-75 1 28 1 17 1 55 1 34 1-112 1 93 1-39 1 41 1-121 1 13 1 120 1-114 1 39 1-21 1 105 1-121 1 61 1-174 1 116 1 34 1 19 1-47 1 54 1-12 1-39 1 62 1-43 1 211 1-202 1 55 1-142 1 97 1-75 1 139 1-146 1-94 1 65 1 88 1-26 1 87 1-106 1-17 1 129 1-15 1 28 1 10 1-79 1-198 1 122 1 181 1-6 1-17 1-114 1 36 1 83 1-141 1 59 1-30 1 212 1-117 1-52 1-55 1 104 1-97 1 30 1-34 1-32 1-200 1 330 1-166 1 94 1-157 1 185 1 14 1-10 1 13 1 19 1-134 1 23 1 81 1-49 1-35 1-35 1 45 1 26 1 2 1-108 1 222 1-123 1-35 1 132 1-137 1-16 1 72 1 76 1-9 1-55 1-87 1-88 1 217 1-16 1-116 1 20 1 174 1 25 1-195 1-23 1 132 1-47 1-25 1 74 1-64 1 24 1 36 1-100 1 104 1-73 1 43 1-45 1 45 1 76 1-80 1-62 1 63 1-132 1 95 1 72 1-67 1-68 1 135 1-129 1 83 1 40 1 9 1-18 1 66 1-23 1-223 1 88 1-41 1 56 1 97 1-2 1-89 1 97 1-132 1 104 1-32 1 119 1 4 1-77 1-56 1 110 1-37 1 70 1-166 1 10 1-64 1 119 1 204 1-150 1-42 1-83 1-184 1 213 1 73 1-35 1 46 1-92 1 131 1-50 1-122 1 89 1 36 1-22 1-6 1 108 1-9 1 94 1-247 1 153 1-101 1-14 1-7 1 13 1 43 1-104 1 47 1 101 1-144 1-64 1 140 1 16 1-65 1-12 1 79 1-120 1 58 1 15 1-22 1-41 1 127 1-107 1-4 1 106 1 41 1-38 1-78 1-20 1-83 1 104 1 38 1-22 1 56 1-23 1-4 1 90 1-150 1-46 1 108 1-88 1 52 1 60 1-143 1 118 1-117 1 4 1 144 1-224 1 169 1 87 1-73 1-140 1 121 1-5 1-30 1 89 1-87 1 100 1-165 1 49 1 23 1-84 1 74 1 36 1 83 1-94 1 119 1-212 1 99 1-68 1-69 1 162 1-162 1 77 1 31 1 73 1 28 1-125 1 55 1 12 1 6 1 25 1-50 1-12 1-23 1-14 1 145 1 0 1 10 1-146 1-22 1 101 1-18 1 91 1-119 1-14 1 113 1-101 1-2 1-31 1 95 1 2 1 60 1-97 1 106 1-68 1-24 1-102 1-51 1 251 1-212 1 120 1-178 1 130 1-30 1 75 1-50 1 43 1-72 1 38 1 2 1-81 1 156 1-49 1-148 1 73 1 75 1 72 1-130 1 106 1 37 1-11 1-58 1-163 1 280 1-116 1-192 1 86 1 128 1 38 1 73 1-265 1 191 1-89 1 4 1 94 1 24 1-126 1 51 1-170 1 191 1-65 1 102 1-204 1-13 1 212 1-119 1-121 1 87 1 160 1-127 1-140 1 187 1-18 1-125 1 162 1-6 1-90 1-63 1-26 1 236 1-87 1 37 1-82 1 73 1-82 1 112 1-128 1 127 1-109 1-24 1 223 1-244 1 148 1-45 1 31 1-62 1 38 1-20 1 36 1-72 1 63 1 16 1-62 1 2 1 100 1-45 1-9 1 13 1-124 1 157 1-19 1-103 1 87 1-89 1 196 1 26 1-151 1 19 1 9 1 53 1-78 1-21 1-82 1-32 1 187 1-127 1 98 1-84 1 163 1-199 1 298 1-131 1-32 1-161 1 13 1 123 1-60 1 48 1-49 1 16 1 39 1 5 1 6 1 1 1-145 1 108 1 80 1-49 1-200 1 196 1 32 1 80 1-120 1 6 1-41 1-47 1 50 1 61 1-202 1 114 1 53 1-12 1 30 1 33 1 21 1-134 1 39 1 71 1-18 1-7 1-96 1 1 1-30 1-101 1 229 1-47 1 54 1 68 1-242 1-56 1 239 1-18 1 55 1-138 1 85 1-31 1 66 1 77 1-205 1 170 1-79 1-62 1-39 1 75 1-11 1-6 1-34 1 41 1-10 1 119 1-145 1-12 1 59 1 108 1-73 1 147 1-59 1-170 1 132 1-139 1 111 1-46 1-77 1 20 1 38 1 0 1-9 1 84 1 19 1-167 1 71 1-49 1 24 1 93 1 62 1-176 1 11 1 91 1 37 1-187 1 276 1-63 1-88 1-119 1-26 1 226 1 5 1-111 1 37 1-114 1 135 1 54 1-151 1 9 1 48 1-93 1 66 1-34 1 27 1 90 1-39 1 51 1-3 1-87 1 114 1 6 1-70 1 0 1-49 1-132 1 82 1 84 1-15 1-34 1-11 1 81 1-74 1 28 1-143 1 97 1 51 1-58 1 10 1 141 1-8 1-171 1 93 1-91 1 48 1 115 1-81 1-4 1 119 1-137 1-5 1-15 1 107 1-84 1 10 1 18 1-37 1 116 1-88 1-85 1 83 1 58 1-94 1 83 1-95 1 203 1-132 1-60 1 109 1-109 1 129 1-203 1 141 1-28 1 1 1-100 1 177 1-33 1-135 1 79 1 2 1-24 1-137 1 266 1-146 1 130 1-175 1 79 1 10 1-5 1-22 1-80 1 265 1-161 1-70 1 5 1 70 1-66 1 24 1 115 1-4 1 3 1-32 1-295 1 225 1-47 1 76 1 80 1-218 1 161 1 54 1-197 1 94 1-111 1 63 1 88 1 8 1 82 1-83 1 15 1 34 1-43 1-34 1-71 1 144 1-88 1-41 1 25 1 11 1 35 1-157 1 172 1-151 1 5 1 115 1-93 1 97 1 49 1-219 1 216 1-36 1 95 1-115 1 3 1-6 1-47 1-16 1-101 1 208 1 156 1-139 1-44 1 92 1-259 1 225 1-80 1 72 1-177 1 12 1 49 1 75 1 129 1-168 1-31 1 51 1-64 1 25 1-64 1 81 1 14 1 4 1 4 1 57 1-53 1 53 1-62 1 48 1-24 1-45 1-144 1 83 1 70 1 10 1-29 1 16 1-11 1-29 1-42 1-107 1 183 1-46 1 37 1 68 1-22 1-59 1 26 1 9 1-103 1 86 1-9 1 194 1-268 1 160 1-74 1 66 1 50 1-19 1-123 1 29 1 30 1-34 1 58 1 41 1-45 1 42 1-96 1-44 1 80 1-97 1 157 1-114 1 14 1 16 1 6 1-13 1 143 1 14 1-121 1-36 1 40 1 35 1-1 1-79 1-56 1 213 1-1 1-111 1 104 1-74 1-77 1-84 1 83 1-120 1-46 1 120 1 170 1-132 1 91 1-79 1-55 1 23 1 213 1-212 1 126 1-45 1-59 1 28 1-101 1 165 1-70 1 169 1-328 1 181 1 17 1-161 1 77 1 1 1 46 1 130 1-135 1-18 1 5 1 100 1-168 1 59 1-121 1 307 1-37 1-124 1-67 1 160 1-94 1 76 1-24 1 12 1-130 1 95 1-8 1 156 1-55 1-29 1-38 1 25 1-174 1 120 1 56 1-66 1-49 1 137 1-45 1-62 1 99 1-80 1-85 1 28 1-20 1 42 1 45 1 8 1-46 1 112 1-130 1-58 1 37 1 55 1 22 1 8 1-60 1 7 1-88 1 227 1-170 1-21 1 113 1 73 1-141 1-45 1 40 1 70 1-42 1 51 1-108 1 165 1-91 1 7 1-62 1-60 1 19 1 72 1 45 1-91 1 86 1-21 1-27 1 127 1-92 1-81 1 44 1 22 1-75 1 55 1 87 1-93 1 38 1-116 1 205 1-41 1 80 1-136 1 6 1 40 1-40 1 100 1-177 1 69 1 62 1-74 1-52 1 26 1 135 1-155 1-35 1 244 1-193 1 133 1-101 1 93 1-131 1 177 1-207 1 89 1 47 1-19 1-28 1-151 1 184 1 76 1 43 1-138 1-12 1 77 1-103 1 222 1-226 1-87 1 17 1 120 1 26 1-60 1 88 1-84 1-99 1 64 1 10 1-52 1 11 1 47 1-37 1 58 1 64 1-16 1-56 1-73 1 75 1 24 1-50 1 63 1 68 1-140 1 21 1-70 1-1 1 79 1-19 1 85 1-114 1-36 1 11 1 74 1-60 1-18 1 17 1 103 1-147 1 150 1-109 1 53 1 19 1 32 1-25 1 16 1-125 1 171 1-94 1-74 1 115 1-20 1-101 1 1 1-55 1 153 1-1 1 36 1-23 1 25 1-22 1-40 1 80 1 7 1-89 1 48 1-42 1 116 1-251 1 220 1-115 1 51 1-69 1 193 1-114 1 98 1-81 1 9 1-35 1-122 1 136 1-82 1 91 1-55 1 100 1-261 1 235 1-10 1-39 1 56 1-174 1 159 1-59 1 36 1-72 1 83 1-125 1 15 1 181 1-108 1 33 1-82 1 49 1-28 1 82 1 8 1-164 1 205 1-1 1-33 1-45 1-93 1 129 1 45 1-70 1-137 1 49 1 128 1-163 1 235 1-101 1-10 1 83 1 17 1-20 1-47 1-35 1-10 1 100 1-131 1 55 1-116 1 246 1-193 1-21 1 11 1 51 1 181 1-292 1-9 1 173 1-19 1-60 1-33 1 57 1 12 1 65 1-71 1 23 1-9 1-23 1-41 1 137 1-49 1 53 1-187 1 98 1-5 1 0 1 142 1-79 1-119 1-13 1 118 1-31 1 54 1-57 1-91 1-4 1 63 1-39 1 47 1 64 1-70 1-16 1-1 1 71 1-113 1 82 1-100 1 76 1 58 1-162 1 107 1-68 1-131 1 263 1-17 1-61 1 75 1-115 1-47 1 135 1-64 1 105 1-194 1 118 1-96 1 98 1 105 1-177 1 121 1 11 1-62 1 77 1-70 1 3 1 32 1 1 1-99 1 33 1-76 1-1 1 145 1-80 1-64 1-59 1 106 1-33 1 68 1 12 1-27 1 99 1 4 1-40 1 48 1-154 1 60 1-26 1-84 1 49 1 82 1 19 1 6 1-43 1-74 1 157 1-10 1 46 1-84 1 114 1-166 1-78 1 101 1-52 1 170 1-126 1 26 1-6 1-8 1-163 1 166 1 115 1-149 1 101 1-242 1 183 1 39 1-111 1 123 1-81 1 48 1-24 1 44 1-8 1-83 1 71 1-98 1 74 1-81 1 123 1 42 1 4 1-26 1-32 1-81 1-47 1 79 1 132 1-232 1 34 1 27 1 94 1-69 1 69 1-47 1 102 1-178 1 11 1 372 1-306 1-26 1-30 1 191 1-131 1 23 1 8 1-9 1 128 1-136 1-30 1 35 1 97 1-120 1-42 1-48 1 23 1 17 1 99 1-10 1-110 1 185 1-59 1-158 1 165 1-41 1-69 1 44 1 32 1 120 1 8 1-93 1 38 1-42 1-134 1 178 1-128 1 17 1 48 1-142 1 23 1 102 1-86 1-26 1 72 1 27 1-57 1 17 1 42 1 20 1-9 1 30 1-105 1 74 1-55 1-28 1 48 1 88 1-121 1 42 1 32 1 163 1-222 1 147 1-347 1 246 1-7 1 8 1 26 1-55 1-71 1 45 1 158 1-184 1 157 1-75 1-76 1 61 1-29 1 204 1-290 1 118 1-105 1 16 1 188 1-18 1 23 1-105 1-65 1 62 1-38 1 121 1-70 1-25 1-118 1 259 1-70 1-32 1-77 1 124 1-24 1 5 1-148 1 51 1-28 1-3 1 9 1 103 1 50 1-29 1-150 1 37 1 136 1 55 1-73 1-46 1-206 1 147 1 210 1-198 1-17 1 93 1-75 1 81 1-57 1-20 1-4 1 98 1-366 1 447 1-176 1-36 1-26 1 108 1-93 1 137 1-267 1 290 1-99 1-122 1 112 1-50 1 37 1-89 1 136 1-46 1-65 1 98 1-20 1-79 1-75 1 179 1-50 1 48 1-73 1 67 1-71 1 144 1 33 1-5 1-11 1-47 1-92 1 39 1 44 1-44 1-41 1-88 1 212 1-84 1-29 1 13 1 54 1-31 1-24 1 69 1-27 1 36 1 60 1-10 1-15 1 32 1-59 1 38 1-13 1-19 1 78 1-150 1 15 1 41 1 86 1-131 1-61 1 153 1-123 1 28 1-73 1 71 1-49 1-53 1 148 1-54 1-6 1 145 1-110 1 29 1-94 1 62 1-45 1 137 1-64 1 6 1-163 1 178 1-272 1 203 1 47 1-65 1 84 1-100 1-5 1 71 1-83 1 95 1-75 1 59 1-8 1-19 1 37 1-13 1 86 1-206 1 124 1-12 1-70 1 5 1-56 1 64 1 17 1 140 1 2 1-21 1-114 1 85 1-121 1 57 1 1 1 20 1-55 1 41 1-44 1 125 1-153 1 40 1 13 1 93 1-96 1 21 1-57 1-56 1 132 1-155 1 155 1-64 1 135 1-99 1-41 1 165 1-219 1 129 1-91 1 7 1 177 1-148 1-147 1 210 1-96 1 30 1-2 1 29 1 69 1-162 1 39 1-12 1 101 1-107 1 138 1-106 1-36 1 174 1-129 1 9 1 51 1 36 1 13 1-178 1 150 1-125 1-42 1 106 1 31 1-24 1 37 1-83 1-5 1-28 1 135 1-67 1 8 1 31 1-125 1 108 1-85 1 141 1-40 1-20 1-133 1 130 1 50 1-125 1 78 1-39 1-64 1 167 1-125 1 39 1-2 1-75 1 222 1-60 1-211 1 130 1 5 1 39 1-19 1 85 1-77 1 138 1-130 1-86 1 146 1-53 1-90 1 150 1-132 1 146 1-28 1-120 1-107 1 42 1 83 1 36 1-54 1-10 1 144 1-68 1-63 1 145 1-164 1 30 1 44 1-57 1 83 1-38 1 20 1 18 1-22 1-26 1-12 1 113 1-143 1-14 1 108 1-62 1 2 1-37 1-29 1 78 1-132 1 212 1-147 1 243 1-229 1 239 1-179 1-18 1-157 1 297 1-159 1 202 1-97 1-128 1 75 1 25 1-103 1 79 1-34 1 20 1 130 1-134 1 19 1-43 1 82 1-54 1 118 1 1 1-119 1 24 1-88 1 33 1 70 1-144 1 117 1-69 1 268 1-229 1 116 1-99 1 143 1-219 1 50 1 44 1 109 1-73 1 1 1-167 1 277 1-187 1 83 1-63 1-70 1 82 1 12 1 14 1 44 1 78 1-124 1 17 1-22 1-47 1 42 1-18 1 204 1-216 1 28 1 3 1-26 1 87 1-107 1 74 1-50 1 83 1-93 1 28 1-12 1-12 1 143 1-153 1 2 1 71 1-11 1 3 1-128 1 72 1-18 1 119 1-134 1 34 1-7 1-23 1 152 1-81 1-28 1-10 1 96 1-31 1-73 1 83 1 35 1-146 1 62 1 9 1 17 1-153 1 98 1 40 1-75 1-19 1 73 1-34 1 67 1-128 1 147 1-40 1 97 1-199 1 66 1 3 1 2 1-24 1 62 1 17 1-240 1 226 1-171 1-88 1 299 1-123 1 9 1 146 1-109 1 27 1-36 1-30 1 52 1 45 1-72 1 43 1-32 1 47 1 49 1-166 1 105 1-8 1-103 1 144 1-1 1-298 1 434 1-234 1-83 1 71 1 54 1 84 1 61 1-150 1 42 1 234 1-343 1 153 1 1 1-89 1-53 1 66 1 38 1 63 1-84 1-17 1-64 1 117 1 5 1-33 1-17 1 72 1-46 1-137 1 37 1 127 1-124 1 102 1 34 1-5 1 61 1-128 1-28 1 53 1-18 1 117 1-11 1-309 1 266 1-22 1-31 1 9 1-1 1-29 1 31 1-120 1 69 1-60 1 51 1-9 1 16 1 76 1 79 1-124 1-188 1 211 1 52 1-147 1 40 1-9 1-68 1 61 1 98 1-59 1 129 1-73 1 10 1 10 1-132 1 39 1-41 1-147 1 86 1 136 1-89 1 106 1 89 1-70 1 8 1-22 1-160 1 105 1 184 1-198 1 258 1-241 1 158 1 35 1-286 1 45 1 10 1 174 1-142 1 56 1-148 1 45 1 162 1-164 1-37 1 89 1 29 1-21 1 60 1-146 1 205 1-87 1-80 1 35 1-16 1-53 1 129 1 10 1-74 1 112 1-96 1-29 1 65 1-23 1 27 1-86 1 147 1 65 1-43 1-49 1 99 1-137 1-34 1 5 1 152 1-117 1 75 1-66 1-2 1 75 1-172 1 5 1 205 1-215 1 97 1 99 1-174 1-25 1 82 1-87 1 94 1 28 1-100 1 54 1-145 1 89 1-8 1 109 1-19 1 22 1-99 1 169 1-116 1-78 1-16 1 176 1-58 1-42 1-177 1 248 1 30 1-60 1 12 1-81 1-26 1 26 1 75 1-58 1 83 1-130 1 33 1 18 1-17 1 153 1-68 1-25 1-72 1 95 1-59 1-62 1 17 1 39 1 75 1 53 1 7 1-99 1-70 1 4 1-46 1 186 1-181 1 19 1 57 1 162 1-198 1-59 1-51 1 112 1 209 1-238 1 27 1 45 1-1 1 50 1-152 1 28 1 85 1-58 1-57 1 148 1 57 1-70 1 53 1-103 1 9 1-102 1 84 1-72 1 81 1-74 1 39 1 58 1-8 1 82 1-40 1-64 1 36 1-123 1 125 1-104 1-70 1 250 1-193 1 123 1-44 1-113 1 97 1 9 1-42 1 88 1-64 1 41 1-13 1-163 1 94 1-31 1-30 1 181 1 49 1-245 1 94 1-81 1 25 1 148 1-110 1 93 1 20 1 57 1-280 1 179 1 44 1-7 1-20 1 11 1-78 1 71 1 4 1-28 1-91 1 20 1 137 1-116 1 41 1-123 1 231 1-38 1-107 1 129 1-91 1-34 1 100 1-58 1 51 1-101 1-105 1 109 1 67 1 22 1 9 1-92 1-159 1 188 1-68 1-30 1 75 1 47 1-57 1 28 1 22 1 115 1-53 1-20 1-96 1 49 1 41 1-144 1 55 1 124 1 15 1-231 1 177 1-159 1 194 1-186 1 8 1 82 1-26 1 98 1-109 1 30 1 94 1-91 1-49 1 60 1 175 1-164 1 11 1 33 1-181 1 255 1-138 1-21 1 199 1-116 1-31 1-1 1 7 1 24 1-102 1 193 1-188 1 82 1-106 1 67 1 63 1-65 1-38 1-34 1 78 1-112 1 114 1 126 1-86 1 1 1-45 1-82 1 169 1-89 1-34 1-35 1 77 1 17 1-77 1 63 1 35 1-78 1 36 1 109 1 114 1-289 1 12 1 107 1-94 1 60 1-107 1 164 1-11 1-108 1 76 1-160 1 176 1-177 1 24 1 82 1 77 1-34 1-52 1 91 1-11 1 27 1 75 1-174 1 75 1-172 1-193 1 279 1-6 1 71 1-31 1-24 1 35 1 32 1-70 1-100 1-50 1 279 1-98 1 4 1-86 1-30 1 181 1-20 1-230 1 171 1-27 1 14 1-54 1 67 1-10 1-36 1 121 1 44 1-49 1-29 1-36 1-120 1 97 1 46 1-73 1-67 1 63 1 57 1 11 1 31 1 113 1-203 1-36 1 117 1-34 1 8 1 27 1-81 1 62 1-109 1-51 1 30 1 205 1-39 1 203" fill="none" stroke="#1577f2" stroke-width="0.3" vector-effect="non-scaling-stroke" stroke-linejoin="bevel"/>
<path d="M53 39.6H259.3" stroke="#000" stroke-width="1.9" stroke-dasharray="8.5 7.75"/>
<path d="M53 89.4H259.3" stroke="#000" stroke-width="1.9" stroke-dasharray="8.5 7.75"/>
<path d="M53 64.5H259.3" stroke="#000" stroke-width="1.7"/>
<path d="M328.9 36.8H535.3" stroke="#000" stroke-width="1.9" stroke-dasharray="8.5 7.75"/>
<path d="M328.9 92.2H535.3" stroke="#000" stroke-width="1.9" stroke-dasharray="8.5 7.75"/>
<path d="M328.9 64.5H535.3" stroke="#000" stroke-width="1.7"/>
<rect x="53" y="23" width="206.3" height="83" fill="none" stroke="#000" stroke-width="1.8"/>
<path d="M53 106H48.5M53 89.4H48.5M53 72.8H48.5M53 56.2H48.5M53 39.6H48.5M53 23H48.5" stroke="#000" stroke-width="1.4"/>
<path d="M53 97.7H50.4M53 81.1H50.4M53 64.5H50.4M53 47.9H50.4M53 31.3H50.4" stroke="#000" stroke-width="1.4"/>
<path d="M53 106V110.5M104.6 106V110.5M156.2 106V110.5M207.7 106V110.5M259.3 106V110.5" stroke="#000" stroke-width="1.4"/>
<path d="M78.8 106V108.6M130.4 106V108.6M181.9 106V108.6M233.5 106V108.6" stroke="#000" stroke-width="1.4"/>
<text x="45.6" y="110.1" font-size="12" font-weight="bold" text-anchor="end">458</text>
<text x="45.6" y="93.5" font-size="12" font-weight="bold" text-anchor="end">459</text>
<text x="45.6" y="76.9" font-size="12" font-weight="bold" text-anchor="end">460</text>
<text x="45.6" y="60.3" font-size="12" font-weight="bold" text-anchor="end">461</text>
<text x="45.6" y="43.7" font-size="12" font-weight="bold" text-anchor="end">462</text>
<text x="45.6" y="27.1" font-size="12" font-weight="bold" text-anchor="end">463</text>
<text x="53" y="123.6" font-size="12" font-weight="bold" text-anchor="middle">0</text>
<text x="104.6" y="123.6" font-size="12" font-weight="bold" text-anchor="middle">1000</text>
<text x="156.2" y="123.6" font-size="12" font-weight="bold" text-anchor="middle">2000</text>
<text x="207.7" y="123.6" font-size="12" font-weight="bold" text-anchor="middle">3000</text>
<text x="259.3" y="123.6" font-size="12" font-weight="bold" text-anchor="middle">4000</text>
<text x="156.5" y="138.3" font-size="13" font-weight="bold" text-anchor="middle">Time (s)</text>
<text x="15" y="79.2" font-size="13.5" font-weight="bold" text-anchor="middle" transform="rotate(-90 15 79.2)">CO<tspan font-size="9" dy="3.8">2</tspan><tspan dy="-3.8" dx="2.3"> concentration (ppm)</tspan></text>
<text x="54" y="35.8" font-size="16" font-weight="bold" text-anchor="start">(a)</text>
<rect x="328.9" y="23" width="206.4" height="83" fill="none" stroke="#000" stroke-width="1.8"/>
<path d="M328.9 92.2H324.4M328.9 64.5H324.4M328.9 36.8H324.4" stroke="#000" stroke-width="1.4"/>
<path d="M328.9 106H326.3M328.9 78.3H326.3M328.9 50.7H326.3M328.9 23H326.3" stroke="#000" stroke-width="1.4"/>
<path d="M328.9 106V110.5M380.5 106V110.5M432.1 106V110.5M483.7 106V110.5M535.3 106V110.5" stroke="#000" stroke-width="1.4"/>
<path d="M354.7 106V108.6M406.3 106V108.6M457.9 106V108.6M509.5 106V108.6" stroke="#000" stroke-width="1.4"/>
<text x="320.6" y="96.3" font-size="12" font-weight="bold" text-anchor="end">9,950</text>
<text x="320.6" y="68.6" font-size="12" font-weight="bold" text-anchor="end">10,000</text>
<text x="320.6" y="40.9" font-size="12" font-weight="bold" text-anchor="end">10,050</text>
<text x="328.9" y="123.6" font-size="12" font-weight="bold" text-anchor="middle">0</text>
<text x="380.5" y="123.6" font-size="12" font-weight="bold" text-anchor="middle">1000</text>
<text x="432.1" y="123.6" font-size="12" font-weight="bold" text-anchor="middle">2000</text>
<text x="483.7" y="123.6" font-size="12" font-weight="bold" text-anchor="middle">3000</text>
<text x="535.3" y="123.6" font-size="12" font-weight="bold" text-anchor="middle">4000</text>
<text x="432.1" y="137.3" font-size="12" font-weight="bold" text-anchor="middle">Time (s)</text>
<text x="281" y="71" font-size="12" font-weight="bold" text-anchor="middle" transform="rotate(-90 281 71)">H<tspan font-size="8" dy="3">2</tspan><tspan dy="-3">O concentration (ppm)</tspan></text>
<text x="330.2" y="36.3" font-size="16" font-weight="bold" text-anchor="start">(c)</text>
<path d="M83.5 141.2V316.3M101.3 141.2V316.3M114 141.2V316.3M123.8 141.2V316.3M131.8 141.2V316.3M138.6 141.2V316.3M144.5 141.2V316.3M149.7 141.2V316.3M184.8 141.2V316.3M202.6 141.2V316.3M215.3 141.2V316.3M225.1 141.2V316.3M233.1 141.2V316.3M239.9 141.2V316.3M245.8 141.2V316.3M251 141.2V316.3M53 304.5H259.8M53 296.3H259.8M53 288.7H259.8M53 281.6H259.8M53 275.1H259.8M53 268.9H259.8M53 263.2H259.8M53 257.7H259.8M53 252.6H259.8M53 243.1H259.8M53 238.7H259.8M53 234.5H259.8M53 230.4H259.8M53 226.5H259.8M53 222.8H259.8M53 219.2H259.8M53 215.8H259.8M53 212.4H259.8M53 206.1H259.8M53 203.1H259.8M53 200.1H259.8M53 197.3H259.8M53 194.6H259.8M53 191.9H259.8M53 189.3H259.8M53 186.7H259.8M53 184.3H259.8M53 179.5H259.8M53 177.2H259.8M53 175H259.8M53 172.8H259.8M53 170.7H259.8M53 168.6H259.8M53 166.5H259.8M53 164.5H259.8M53 162.6H259.8M53 158.8H259.8M53 156.9H259.8M53 155.1H259.8M53 153.4H259.8M53 151.6H259.8M53 149.9H259.8M53 148.2H259.8M53 146.6H259.8M53 144.9H259.8M53 141.8H259.8" stroke="#f3f3f3" stroke-width="0.7"/>
<path d="M154.3 141.2V316.3M255.6 141.2V316.3M53 313.6H259.8M53 247.7H259.8M53 209.2H259.8M53 181.9H259.8M53 160.7H259.8M53 143.3H259.8" stroke="#e2e2e2" stroke-width="0.8"/>
<path d="M360 141.2V316.5M378.1 141.2V316.5M391 141.2V316.5M401 141.2V316.5M409.2 141.2V316.5M416.1 141.2V316.5M422.1 141.2V316.5M427.4 141.2V316.5M463.2 141.2V316.5M481.3 141.2V316.5M494.2 141.2V316.5M504.2 141.2V316.5M512.4 141.2V316.5M519.3 141.2V316.5M525.3 141.2V316.5M530.6 141.2V316.5M328.9 315.4H535.3M328.9 302H535.3M328.9 290.3H535.3M328.9 280.1H535.3M328.9 262.6H535.3M328.9 255H535.3M328.9 248H535.3M328.9 241.6H535.3M328.9 235.6H535.3M328.9 229.9H535.3M328.9 224.7H535.3M328.9 219.7H535.3M328.9 215H535.3M328.9 206.2H535.3M328.9 202.2H535.3M328.9 198.3H535.3M328.9 194.6H535.3M328.9 191.1H535.3M328.9 187.6H535.3M328.9 184.4H535.3M328.9 181.2H535.3M328.9 178.1H535.3M328.9 172.3H535.3M328.9 169.6H535.3M328.9 166.9H535.3M328.9 164.3H535.3M328.9 161.7H535.3M328.9 159.3H535.3M328.9 156.9H535.3M328.9 154.6H535.3M328.9 152.3H535.3M328.9 148H535.3M328.9 145.9H535.3M328.9 143.8H535.3M328.9 141.8H535.3" stroke="#f3f3f3" stroke-width="0.7"/>
<path d="M432.1 141.2V316.5M328.9 270.9H535.3M328.9 210.5H535.3M328.9 175.2H535.3M328.9 150.1H535.3" stroke="#e2e2e2" stroke-width="0.8"/>
<rect x="53" y="141.2" width="206.8" height="175.1" fill="none" stroke="#000" stroke-width="1.8"/>
<path d="M53 313.6H48.5M53 247.7H48.5M53 209.2H48.5M53 181.9H48.5M53 160.7H48.5M53 143.3H48.5" stroke="#000" stroke-width="1.4"/>
<path d="M53 304.5H51.2M53 296.3H51.2M53 288.7H51.2M53 281.6H51.2M53 275.1H51.2M53 268.9H51.2M53 263.2H51.2M53 257.7H51.2M53 252.6H51.2M53 243.1H51.2M53 238.7H51.2M53 234.5H51.2M53 230.4H51.2M53 226.5H51.2M53 222.8H51.2M53 219.2H51.2M53 215.8H51.2M53 212.4H51.2M53 206.1H51.2M53 203.1H51.2M53 200.1H51.2M53 197.3H51.2M53 194.6H51.2M53 191.9H51.2M53 189.3H51.2M53 186.7H51.2M53 184.3H51.2M53 179.5H51.2M53 177.2H51.2M53 175H51.2M53 172.8H51.2M53 170.7H51.2M53 168.6H51.2M53 166.5H51.2M53 164.5H51.2M53 162.6H51.2M53 158.8H51.2M53 156.9H51.2M53 155.1H51.2M53 153.4H51.2M53 151.6H51.2M53 149.9H51.2M53 148.2H51.2M53 146.6H51.2M53 144.9H51.2M53 141.8H51.2" stroke="#000" stroke-width="1.2"/>
<path d="M53 316.3V320.8M154.3 316.3V320.8M255.6 316.3V320.8" stroke="#000" stroke-width="1.4"/>
<path d="M83.5 316.3V318.9M101.3 316.3V318.9M114 316.3V318.9M123.8 316.3V318.9M131.8 316.3V318.9M138.6 316.3V318.9M144.5 316.3V318.9M149.7 316.3V318.9M184.8 316.3V318.9M202.6 316.3V318.9M215.3 316.3V318.9M225.1 316.3V318.9M233.1 316.3V318.9M239.9 316.3V318.9M245.8 316.3V318.9M251 316.3V318.9" stroke="#000" stroke-width="1.4"/>
<text x="45.2" y="317.7" font-size="12" font-weight="bold" text-anchor="end">0.1</text>
<text x="45.2" y="251.8" font-size="12" font-weight="bold" text-anchor="end">0.2</text>
<text x="45.2" y="213.3" font-size="12" font-weight="bold" text-anchor="end">0.3</text>
<text x="45.2" y="186" font-size="12" font-weight="bold" text-anchor="end">0.4</text>
<text x="45.2" y="164.8" font-size="12" font-weight="bold" text-anchor="end">0.5</text>
<text x="45.2" y="147.4" font-size="12" font-weight="bold" text-anchor="end">0.6</text>
<text x="53" y="333.4" font-size="12" font-weight="bold" text-anchor="middle">1</text>
<text x="154.3" y="333.4" font-size="12" font-weight="bold" text-anchor="middle">10</text>
<text x="255.6" y="333.4" font-size="12" font-weight="bold" text-anchor="middle">100</text>
<text x="156.8" y="346.2" font-size="13.5" font-weight="bold" text-anchor="middle">Average time(s)</text>
<text x="14.7" y="235.1" font-size="13.2" font-weight="bold" text-anchor="middle" transform="rotate(-90 14.7 235.1)">Allan Deviation (ppm)</text>
<text x="55.6" y="155" font-size="15.5" font-weight="bold" text-anchor="start">(b)</text>
<rect x="328.9" y="141.2" width="206.4" height="175.3" fill="none" stroke="#000" stroke-width="1.8"/>
<path d="M328.9 270.9H324.4M328.9 210.5H324.4M328.9 175.2H324.4M328.9 150.1H324.4" stroke="#000" stroke-width="1.4"/>
<path d="M328.9 315.4H327.1M328.9 302H327.1M328.9 290.3H327.1M328.9 280.1H327.1M328.9 262.6H327.1M328.9 255H327.1M328.9 248H327.1M328.9 241.6H327.1M328.9 235.6H327.1M328.9 229.9H327.1M328.9 224.7H327.1M328.9 219.7H327.1M328.9 215H327.1M328.9 206.2H327.1M328.9 202.2H327.1M328.9 198.3H327.1M328.9 194.6H327.1M328.9 191.1H327.1M328.9 187.6H327.1M328.9 184.4H327.1M328.9 181.2H327.1M328.9 178.1H327.1M328.9 172.3H327.1M328.9 169.6H327.1M328.9 166.9H327.1M328.9 164.3H327.1M328.9 161.7H327.1M328.9 159.3H327.1M328.9 156.9H327.1M328.9 154.6H327.1M328.9 152.3H327.1M328.9 148H327.1M328.9 145.9H327.1M328.9 143.8H327.1M328.9 141.8H327.1" stroke="#000" stroke-width="1.2"/>
<path d="M328.9 316.5V321M432.1 316.5V321M535.3 316.5V321" stroke="#000" stroke-width="1.4"/>
<path d="M360 316.5V319.1M378.1 316.5V319.1M391 316.5V319.1M401 316.5V319.1M409.2 316.5V319.1M416.1 316.5V319.1M422.1 316.5V319.1M427.4 316.5V319.1M463.2 316.5V319.1M481.3 316.5V319.1M494.2 316.5V319.1M504.2 316.5V319.1M512.4 316.5V319.1M519.3 316.5V319.1M525.3 316.5V319.1M530.6 316.5V319.1" stroke="#000" stroke-width="1.4"/>
<text x="320.8" y="275" font-size="12" font-weight="bold" text-anchor="end">5</text>
<text x="320.8" y="214.6" font-size="12" font-weight="bold" text-anchor="end">10</text>
<text x="320.8" y="179.3" font-size="12" font-weight="bold" text-anchor="end">15</text>
<text x="320.8" y="154.2" font-size="12" font-weight="bold" text-anchor="end">20</text>
<text x="328.9" y="333.6" font-size="12" font-weight="bold" text-anchor="middle">1</text>
<text x="432.1" y="333.6" font-size="12" font-weight="bold" text-anchor="middle">10</text>
<text x="535.3" y="333.6" font-size="12" font-weight="bold" text-anchor="middle">100</text>
<text x="432.4" y="346.6" font-size="12.45" font-weight="bold" text-anchor="middle">Average time (s)</text>
<text x="287" y="234.5" font-size="12.1" font-weight="bold" text-anchor="middle" transform="rotate(-90 287 234.5)">Allan Deviation (ppm)</text>
<text x="331.2" y="155.9" font-size="15.6" font-weight="bold" text-anchor="start">(d)</text>
<clipPath id="cb"><rect x="52.7" y="141.2" width="207.1" height="175.1"/></clipPath>
<g clip-path="url(#cb)">
<path d="M53.0 156.9 83.5 192.9 101.3 209.2 114.0 222.8 123.8 231.8 131.8 239.5 138.6 253.1 144.5 249.2 149.7 256.9 154.3 259.9 158.5 267.3 162.3 268.0 165.8 268.9 169.1 272.3 172.1 272.3 175.0 273.8 177.6 277.0 180.2 285.8 182.5 278.0 184.8 281.0 186.9 282.8 189.0 284.1 190.9 281.4 192.8 279.8 194.6 278.1 196.3 280.5 198.0 282.0 199.6 282.6 201.1 278.9 202.6 276.8 204.1 280.3 205.5 284.2 206.8 283.8 208.1 278.1 209.4 281.6 210.7 286.5 211.9 282.8 213.0 285.7 214.2 284.7 215.3 284.6 216.4 285.4 217.4 280.7 218.5 280.4 219.5 280.1 220.5 276.3 221.4 273.8 222.4 278.3 223.3 273.5 224.2 273.9 225.1 270.5 226.0 272.4 226.8 268.5 227.7 267.8 228.5 267.7 229.3 268.7 230.1 266.4 230.9 267.4 231.6 267.4 232.4 263.0 233.1 265.6 233.9 259.5 234.6 260.0 235.3 266.0 236.0 259.9 236.6 262.6 237.3 259.3 238.0 258.7 238.6 263.1 239.3 258.3 239.9 257.8 240.5 254.5 241.1 259.2 241.8 254.2 242.4 258.1 242.9 255.9 243.5 256.7 244.1 250.9 244.7 252.5 245.2 247.9 245.8 251.6 246.3 250.7 246.9 250.3 247.4 253.4 247.9 251.7 248.5 248.1 249.0 251.8 249.5 250.0 250.0 250.2 250.5 248.0 251.0 249.6 251.5 248.4 251.9 246.8 252.4 246.5 252.9 248.1 253.3 243.3 253.8 247.9 254.3 247.0 254.7 246.5 255.2 240.6 255.6 243.1" fill="none" stroke="#f0509e" stroke-width="0.9"/>
<path d="M50.5 154.4h5.1v5.1h-5.1zM80.9 190.4h5.1v5.1h-5.1zM98.8 206.7h5.1v5.1h-5.1zM111.4 220.3h5.1v5.1h-5.1zM121.3 229.3h5.1v5.1h-5.1zM129.3 237.0h5.1v5.1h-5.1zM136.1 250.6h5.1v5.1h-5.1zM141.9 246.6h5.1v5.1h-5.1zM147.1 254.4h5.1v5.1h-5.1zM151.8 257.3h5.1v5.1h-5.1zM155.9 264.8h5.1v5.1h-5.1zM159.8 265.4h5.1v5.1h-5.1zM163.3 266.4h5.1v5.1h-5.1zM166.6 269.7h5.1v5.1h-5.1zM169.6 269.7h5.1v5.1h-5.1zM172.4 271.3h5.1v5.1h-5.1zM175.1 274.4h5.1v5.1h-5.1zM177.6 283.2h5.1v5.1h-5.1zM180.0 275.4h5.1v5.1h-5.1zM182.2 278.4h5.1v5.1h-5.1zM184.4 280.3h5.1v5.1h-5.1zM186.4 281.5h5.1v5.1h-5.1zM188.4 278.9h5.1v5.1h-5.1zM190.3 277.3h5.1v5.1h-5.1zM192.1 275.6h5.1v5.1h-5.1zM193.8 277.9h5.1v5.1h-5.1zM195.4 279.5h5.1v5.1h-5.1zM197.0 280.0h5.1v5.1h-5.1zM198.6 276.3h5.1v5.1h-5.1zM200.1 274.3h5.1v5.1h-5.1zM201.5 277.7h5.1v5.1h-5.1zM202.9 281.6h5.1v5.1h-5.1zM204.3 281.3h5.1v5.1h-5.1zM205.6 275.5h5.1v5.1h-5.1zM206.9 279.0h5.1v5.1h-5.1zM208.1 284.0h5.1v5.1h-5.1zM209.3 280.2h5.1v5.1h-5.1zM210.5 283.1h5.1v5.1h-5.1zM211.6 282.1h5.1v5.1h-5.1zM212.7 282.0h5.1v5.1h-5.1zM213.8 282.8h5.1v5.1h-5.1zM214.9 278.1h5.1v5.1h-5.1zM215.9 277.9h5.1v5.1h-5.1zM216.9 277.6h5.1v5.1h-5.1zM217.9 273.7h5.1v5.1h-5.1zM218.9 271.2h5.1v5.1h-5.1zM219.8 275.7h5.1v5.1h-5.1zM220.8 270.9h5.1v5.1h-5.1zM221.7 271.3h5.1v5.1h-5.1zM222.6 268.0h5.1v5.1h-5.1zM223.4 269.9h5.1v5.1h-5.1zM224.3 265.9h5.1v5.1h-5.1zM225.1 265.3h5.1v5.1h-5.1zM225.9 265.1h5.1v5.1h-5.1zM226.7 266.2h5.1v5.1h-5.1zM227.5 263.8h5.1v5.1h-5.1zM228.3 264.9h5.1v5.1h-5.1zM229.1 264.9h5.1v5.1h-5.1zM229.8 260.4h5.1v5.1h-5.1zM230.6 263.0h5.1v5.1h-5.1zM231.3 257.0h5.1v5.1h-5.1zM232.0 257.5h5.1v5.1h-5.1zM232.7 263.4h5.1v5.1h-5.1zM233.4 257.3h5.1v5.1h-5.1zM234.1 260.1h5.1v5.1h-5.1zM234.8 256.8h5.1v5.1h-5.1zM235.4 256.2h5.1v5.1h-5.1zM236.1 260.6h5.1v5.1h-5.1zM236.7 255.8h5.1v5.1h-5.1zM237.4 255.3h5.1v5.1h-5.1zM238.0 252.0h5.1v5.1h-5.1zM238.6 256.6h5.1v5.1h-5.1zM239.2 251.6h5.1v5.1h-5.1zM239.8 255.6h5.1v5.1h-5.1zM240.4 253.3h5.1v5.1h-5.1zM241.0 254.1h5.1v5.1h-5.1zM241.6 248.3h5.1v5.1h-5.1zM242.1 250.0h5.1v5.1h-5.1zM242.7 245.3h5.1v5.1h-5.1zM243.2 249.0h5.1v5.1h-5.1zM243.8 248.2h5.1v5.1h-5.1zM244.3 247.8h5.1v5.1h-5.1zM244.9 250.9h5.1v5.1h-5.1zM245.4 249.2h5.1v5.1h-5.1zM245.9 245.5h5.1v5.1h-5.1zM246.4 249.2h5.1v5.1h-5.1zM246.9 247.5h5.1v5.1h-5.1zM247.4 247.6h5.1v5.1h-5.1zM247.9 245.5h5.1v5.1h-5.1zM248.4 247.1h5.1v5.1h-5.1zM248.9 245.9h5.1v5.1h-5.1zM249.4 244.3h5.1v5.1h-5.1zM249.9 243.9h5.1v5.1h-5.1zM250.3 245.6h5.1v5.1h-5.1zM250.8 240.7h5.1v5.1h-5.1zM251.3 245.3h5.1v5.1h-5.1zM251.7 244.4h5.1v5.1h-5.1zM252.2 244.0h5.1v5.1h-5.1zM252.6 238.0h5.1v5.1h-5.1zM253.0 240.5h5.1v5.1h-5.1z" fill="#ee0088"/>
</g>
<clipPath id="cd"><rect x="328.6" y="141.2" width="206.7" height="175.3"/></clipPath>
<g clip-path="url(#cd)">
<path d="M328.9 161.7 360.0 191.8 378.1 210.5 391.0 218.3 401.0 230.5 409.2 239.2 416.1 249.5 422.1 258.4 427.4 258.4 432.1 260.4 436.4 269.7 440.3 269.0 443.9 269.0 447.2 271.8 450.3 275.5 453.2 277.6 455.9 280.6 458.4 284.4 460.9 274.8 463.2 289.5 465.4 280.6 467.4 283.0 469.4 274.3 471.3 281.8 473.2 284.4 474.9 286.9 476.6 289.8 478.2 285.3 479.8 294.0 481.3 283.8 482.8 281.8 484.2 288.8 485.6 285.1 486.9 285.9 488.2 297.1 489.5 288.6 490.7 290.5 491.9 295.8 493.1 280.3 494.2 293.0 495.3 286.0 496.4 275.3 497.5 281.9 498.5 299.5 499.5 283.8 500.5 287.8 501.5 278.9 502.4 286.8 503.3 277.9 504.2 285.4 505.1 283.7 506.0 288.1 506.8 278.0 507.7 284.0 508.5 284.6 509.3 281.4 510.1 285.7 510.9 281.3 511.7 286.3 512.4 281.6 513.1 285.7 513.9 287.7 514.6 284.2 515.3 286.5 516.0 281.0 516.7 282.3 517.4 280.9 518.0 281.9 518.7 283.0 519.3 281.9 519.9 279.2 520.6 282.2 521.2 283.7 521.8 284.1 522.4 282.1 523.0 283.4 523.6 276.5 524.2 284.3 524.7 284.0 525.3 281.8 525.9 279.1 526.4 281.1 526.9 282.7 527.5 282.0 528.0 280.5 528.5 276.8 529.1 281.6 529.6 278.9 530.1 280.0 530.6 277.3 531.1 276.6 531.6 281.1 532.0 270.7 532.5 275.8 533.0 277.1 533.5 277.7 533.9 275.6 534.4 274.3 534.8 272.4 535.3 273.5" fill="none" stroke="#3d94f5" stroke-width="0.9"/>
<path d="M326.4 159.2h5v5h-5zM357.5 189.3h5v5h-5zM375.6 208.0h5v5h-5zM388.5 215.8h5v5h-5zM398.5 228.0h5v5h-5zM406.7 236.7h5v5h-5zM413.6 247.0h5v5h-5zM419.6 255.9h5v5h-5zM424.9 255.9h5v5h-5zM429.6 257.9h5v5h-5zM433.9 267.2h5v5h-5zM437.8 266.5h5v5h-5zM441.4 266.5h5v5h-5zM444.7 269.3h5v5h-5zM447.8 273.0h5v5h-5zM450.7 275.1h5v5h-5zM453.4 278.1h5v5h-5zM455.9 281.9h5v5h-5zM458.4 272.3h5v5h-5zM460.7 287.0h5v5h-5zM462.9 278.1h5v5h-5zM464.9 280.5h5v5h-5zM466.9 271.8h5v5h-5zM468.8 279.3h5v5h-5zM470.7 281.9h5v5h-5zM472.4 284.4h5v5h-5zM474.1 287.3h5v5h-5zM475.7 282.8h5v5h-5zM477.3 291.5h5v5h-5zM478.8 281.3h5v5h-5zM480.3 279.3h5v5h-5zM481.7 286.3h5v5h-5zM483.1 282.6h5v5h-5zM484.4 283.4h5v5h-5zM485.7 294.6h5v5h-5zM487.0 286.1h5v5h-5zM488.2 288.0h5v5h-5zM489.4 293.3h5v5h-5zM490.6 277.8h5v5h-5zM491.7 290.5h5v5h-5zM492.8 283.5h5v5h-5zM493.9 272.8h5v5h-5zM495.0 279.4h5v5h-5zM496.0 297.0h5v5h-5zM497.0 281.3h5v5h-5zM498.0 285.3h5v5h-5zM499.0 276.4h5v5h-5zM499.9 284.3h5v5h-5zM500.8 275.4h5v5h-5zM501.7 282.9h5v5h-5zM502.6 281.2h5v5h-5zM503.5 285.6h5v5h-5zM504.3 275.5h5v5h-5zM505.2 281.5h5v5h-5zM506.0 282.1h5v5h-5zM506.8 278.9h5v5h-5zM507.6 283.2h5v5h-5zM508.4 278.8h5v5h-5zM509.2 283.8h5v5h-5zM509.9 279.1h5v5h-5zM510.6 283.2h5v5h-5zM511.4 285.2h5v5h-5zM512.1 281.7h5v5h-5zM512.8 284.0h5v5h-5zM513.5 278.5h5v5h-5zM514.2 279.8h5v5h-5zM514.9 278.4h5v5h-5zM515.5 279.4h5v5h-5zM516.2 280.5h5v5h-5zM516.8 279.4h5v5h-5zM517.4 276.7h5v5h-5zM518.1 279.7h5v5h-5zM518.7 281.2h5v5h-5zM519.3 281.6h5v5h-5zM519.9 279.6h5v5h-5zM520.5 280.9h5v5h-5zM521.1 274.0h5v5h-5zM521.7 281.8h5v5h-5zM522.2 281.5h5v5h-5zM522.8 279.3h5v5h-5zM523.4 276.6h5v5h-5zM523.9 278.6h5v5h-5zM524.4 280.2h5v5h-5zM525.0 279.5h5v5h-5zM525.5 278.0h5v5h-5zM526.0 274.3h5v5h-5zM526.6 279.1h5v5h-5zM527.1 276.4h5v5h-5zM527.6 277.5h5v5h-5zM528.1 274.8h5v5h-5zM528.6 274.1h5v5h-5zM529.1 278.6h5v5h-5zM529.5 268.2h5v5h-5zM530.0 273.3h5v5h-5zM530.5 274.6h5v5h-5zM531.0 275.2h5v5h-5zM531.4 273.1h5v5h-5zM531.9 271.8h5v5h-5zM532.3 269.9h5v5h-5zM532.8 271.0h5v5h-5z" fill="#0a6eff"/>
</g>
<path d="M204.5 156.2H231.9" stroke="#f0509e" stroke-width="0.9"/>
<rect x="215.6" y="153.5" width="5.4" height="5.4" fill="#ee0088"/>
<text x="232" y="160.4" font-size="12.2">CO<tspan font-size="8" dy="3">2</tspan></text>
<path d="M477.3 154.3H504.9" stroke="#3d94f5" stroke-width="0.9"/>
<rect x="489" y="151.8" width="5" height="5" fill="#0a6eff"/>
<text x="508" y="158.6" font-size="12.2">H<tspan font-size="8" dy="3">2</tspan><tspan dy="-3">O</tspan></text>
<path d="M57.0 156.7L72.3 156.7" stroke="#000" stroke-width="2.0"/>
<path d="M80.8 156.7L71.3 160.1L71.3 153.3z" fill="#000"/>
<path d="M180.6 288.5L176.3 292.9" stroke="#000" stroke-width="2.0"/>
<path d="M170.4 299.0L174.6 289.8L179.5 294.6z" fill="#000"/>
<path d="M335.5 161.3L351.3 161.3" stroke="#000" stroke-width="2.0"/>
<path d="M359.8 161.3L350.3 164.7L350.3 157.9z" fill="#000"/>
<path d="M484.3 302.3L480.1 306.7" stroke="#000" stroke-width="2.0"/>
<path d="M474.2 312.9L478.3 303.7L483.2 308.4z" fill="#000"/>
<text x="84.8" y="163.6" font-size="13.3" font-weight="bold" text-anchor="start">1s: 0.52 ppm</text>
<text x="92.6" y="299.8" font-size="13.4" font-weight="bold" text-anchor="start">18s: 0.13 ppm</text>
<text x="363" y="174.5" font-size="13.2" font-weight="bold" text-anchor="start">1s: 17.5 ppm</text>
<text x="399" y="310.3" font-size="13.6" font-weight="bold" text-anchor="start">35s: 3.7 ppm</text>
</svg>
</body></html>
